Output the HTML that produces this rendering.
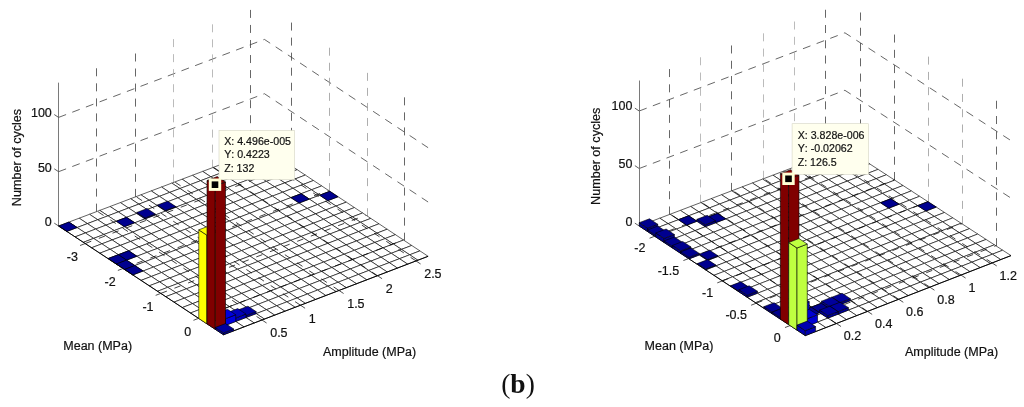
<!DOCTYPE html>
<html><head><meta charset="utf-8"><title>Figure (b)</title>
<style>html,body{margin:0;padding:0;background:#fff}svg{display:block}text{font-kerning:none}</style></head>
<body><svg width="1024" height="407" viewBox="0 0 1024 407">
<rect width="1024" height="407" fill="#fff"/>
<g fill="none" stroke="#404040" stroke-width="0.8" stroke-dasharray="8 6.6">
<polyline points="58.6,171.7 264.4,93.7 428.1,202"/>
<polyline points="58.6,117.4 264.4,39.4 428.1,147.7"/>
<line x1="96.5" y1="211.64" x2="96.5" y2="68.28" stroke-dasharray="8 7.04"/>
<line x1="135.5" y1="196.85" x2="135.5" y2="53.5" stroke-dasharray="8 7.04"/>
<line x1="173.5" y1="182.45" x2="173.5" y2="39.1" stroke-dasharray="8 7.04" stroke="#aaa"/>
<line x1="212.5" y1="167.67" x2="212.5" y2="24.32" stroke-dasharray="8 7.04" stroke="#aaa"/>
<line x1="250.5" y1="153.27" x2="250.5" y2="9.92" stroke-dasharray="8 7.04"/>
<line x1="291.5" y1="165.93" x2="291.5" y2="22.58" stroke-dasharray="8 7.04"/>
<line x1="329.5" y1="191.07" x2="329.5" y2="47.72" stroke-dasharray="8 7.04" stroke="#999"/>
<line x1="367.5" y1="216.21" x2="367.5" y2="72.86" stroke-dasharray="8 7.04" stroke="#999"/>
<line x1="404.5" y1="240.69" x2="404.5" y2="97.33" stroke-dasharray="8 7.04"/>
</g>
<line x1="58.5" y1="82.65" x2="58.5" y2="226" stroke="#7a7a7a" stroke-width="1"/>
<line x1="58.6" y1="226" x2="54.26" y2="223.14" stroke="#333" stroke-width="0.8"/>
<text x="51.8" y="225.8" text-anchor="end" font-family="Liberation Sans, Arial, sans-serif" font-size="12.5" fill="#111" stroke="#111" stroke-width="0.2">0</text>
<line x1="58.6" y1="171.7" x2="54.26" y2="168.84" stroke="#333" stroke-width="0.8"/>
<text x="51.8" y="171.5" text-anchor="end" font-family="Liberation Sans, Arial, sans-serif" font-size="12.5" fill="#111" stroke="#111" stroke-width="0.2">50</text>
<line x1="58.6" y1="117.4" x2="54.26" y2="114.54" stroke="#333" stroke-width="0.8"/>
<text x="51.8" y="117.2" text-anchor="end" font-family="Liberation Sans, Arial, sans-serif" font-size="12.5" fill="#111" stroke="#111" stroke-width="0.2">100</text>
<g stroke="#000" stroke-width="0.62" stroke-linejoin="round">
<polygon points="254.11,151.9 262.3,157.32 272.58,153.41 264.4,148" fill="#fff"/>
<polygon points="243.82,155.8 252.01,161.22 262.3,157.32 254.11,151.9" fill="#fff"/>
<polygon points="233.53,159.7 241.72,165.12 252.01,161.22 243.82,155.8" fill="#fff"/>
<polygon points="223.24,163.6 231.44,169.02 241.72,165.12 233.53,159.7" fill="#fff"/>
<polygon points="212.95,167.5 221.15,172.92 231.44,169.02 223.24,163.6" fill="#fff"/>
<polygon points="202.66,171.4 210.86,176.82 221.15,172.92 212.95,167.5" fill="#fff"/>
<polygon points="192.37,175.3 200.58,180.72 210.86,176.82 202.66,171.4" fill="#fff"/>
<polygon points="182.08,179.2 190.29,184.62 200.58,180.72 192.37,175.3" fill="#fff"/>
<polygon points="171.79,183.1 180,188.53 190.29,184.62 182.08,179.2" fill="#fff"/>
<polygon points="161.5,187 169.71,192.43 180,188.53 171.79,183.1" fill="#fff"/>
<polygon points="151.21,190.9 159.43,196.33 169.71,192.43 161.5,187" fill="#fff"/>
<polygon points="140.92,194.8 149.14,200.23 159.43,196.33 151.21,190.9" fill="#fff"/>
<polygon points="130.63,198.7 138.85,204.13 149.14,200.23 140.92,194.8" fill="#fff"/>
<polygon points="120.34,202.6 128.57,208.03 138.85,204.13 130.63,198.7" fill="#fff"/>
<polygon points="110.05,206.5 118.28,211.93 128.57,208.03 120.34,202.6" fill="#fff"/>
<polygon points="99.76,210.4 107.99,215.83 118.28,211.93 110.05,206.5" fill="#fff"/>
<polygon points="89.47,214.3 97.71,219.73 107.99,215.83 99.76,210.4" fill="#fff"/>
<polygon points="79.18,218.2 87.42,223.64 97.71,219.73 89.47,214.3" fill="#fff"/>
<polygon points="68.89,222.1 77.13,227.54 87.42,223.64 79.18,218.2" fill="#fff"/>
<polygon points="58.6,226 66.84,231.44 77.13,227.54 68.89,222.1" fill="#00008f"/>
<polygon points="262.3,157.32 270.49,162.73 280.77,158.83 272.58,153.41" fill="#fff"/>
<polygon points="252.01,161.22 260.2,166.63 270.49,162.73 262.3,157.32" fill="#fff"/>
<polygon points="241.72,165.12 249.92,170.54 260.2,166.63 252.01,161.22" fill="#fff"/>
<polygon points="231.44,169.02 239.63,174.44 249.92,170.54 241.72,165.12" fill="#fff"/>
<polygon points="221.15,172.92 229.35,178.34 239.63,174.44 231.44,169.02" fill="#fff"/>
<polygon points="210.86,176.82 219.07,182.24 229.35,178.34 221.15,172.92" fill="#fff"/>
<polygon points="200.58,180.72 208.78,186.15 219.07,182.24 210.86,176.82" fill="#fff"/>
<polygon points="190.29,184.62 198.5,190.05 208.78,186.15 200.58,180.72" fill="#fff"/>
<polygon points="180,188.53 188.21,193.95 198.5,190.05 190.29,184.62" fill="#fff"/>
<polygon points="169.71,192.43 177.93,197.85 188.21,193.95 180,188.53" fill="#fff"/>
<polygon points="159.43,196.33 167.65,201.75 177.93,197.85 169.71,192.43" fill="#fff"/>
<polygon points="149.14,200.23 157.36,205.66 167.65,201.75 159.43,196.33" fill="#fff"/>
<polygon points="138.85,204.13 147.08,209.56 157.36,205.66 149.14,200.23" fill="#fff"/>
<polygon points="128.57,208.03 136.79,213.46 147.08,209.56 138.85,204.13" fill="#fff"/>
<polygon points="118.28,211.93 126.51,217.36 136.79,213.46 128.57,208.03" fill="#fff"/>
<polygon points="107.99,215.83 116.23,221.27 126.51,217.36 118.28,211.93" fill="#fff"/>
<polygon points="97.71,219.73 105.94,225.17 116.23,221.27 107.99,215.83" fill="#fff"/>
<polygon points="87.42,223.64 95.66,229.07 105.94,225.17 97.71,219.73" fill="#fff"/>
<polygon points="77.13,227.54 85.37,232.97 95.66,229.07 87.42,223.64" fill="#fff"/>
<polygon points="66.84,231.44 75.09,236.88 85.37,232.97 77.13,227.54" fill="#fff"/>
<polygon points="270.49,162.73 278.67,168.15 288.95,164.25 280.77,158.83" fill="#fff"/>
<polygon points="260.2,166.63 268.39,172.05 278.67,168.15 270.49,162.73" fill="#fff"/>
<polygon points="249.92,170.54 258.11,175.96 268.39,172.05 260.2,166.63" fill="#fff"/>
<polygon points="239.63,174.44 247.83,179.86 258.11,175.96 249.92,170.54" fill="#fff"/>
<polygon points="229.35,178.34 237.55,183.76 247.83,179.86 239.63,174.44" fill="#fff"/>
<polygon points="219.07,182.24 227.27,187.67 237.55,183.76 229.35,178.34" fill="#fff"/>
<polygon points="208.78,186.15 216.99,191.57 227.27,187.67 219.07,182.24" fill="#fff"/>
<polygon points="198.5,190.05 206.71,195.47 216.99,191.57 208.78,186.15" fill="#fff"/>
<polygon points="188.21,193.95 196.43,199.38 206.71,195.47 198.5,190.05" fill="#fff"/>
<polygon points="177.93,197.85 186.14,203.28 196.43,199.38 188.21,193.95" fill="#fff"/>
<polygon points="167.65,201.75 175.86,207.18 186.14,203.28 177.93,197.85" fill="#fff"/>
<polygon points="147.08,209.56 155.3,214.99 165.58,211.09 157.36,205.66" fill="#fff"/>
<polygon points="126.51,217.36 134.74,222.8 145.02,218.89 136.79,213.46" fill="#fff"/>
<polygon points="116.23,221.27 124.46,226.7 134.74,222.8 126.51,217.36" fill="#00008f"/>
<polygon points="105.94,225.17 114.18,230.6 124.46,226.7 116.23,221.27" fill="#fff"/>
<polygon points="95.66,229.07 103.9,234.51 114.18,230.6 105.94,225.17" fill="#fff"/>
<polygon points="85.37,232.97 93.62,238.41 103.9,234.51 95.66,229.07" fill="#fff"/>
<polygon points="75.09,236.88 83.34,242.31 93.62,238.41 85.37,232.97" fill="#fff"/>
<polygon points="278.67,168.15 286.86,173.56 297.14,169.66 288.95,164.25" fill="#fff"/>
<polygon points="268.39,172.05 276.58,177.47 286.86,173.56 278.67,168.15" fill="#fff"/>
<polygon points="258.11,175.96 266.31,181.37 276.58,177.47 268.39,172.05" fill="#fff"/>
<polygon points="247.83,179.86 256.03,185.28 266.31,181.37 258.11,175.96" fill="#fff"/>
<polygon points="237.55,183.76 245.75,189.18 256.03,185.28 247.83,179.86" fill="#fff"/>
<polygon points="227.27,187.67 235.47,193.09 245.75,189.18 237.55,183.76" fill="#fff"/>
<polygon points="216.99,191.57 225.19,196.99 235.47,193.09 227.27,187.67" fill="#fff"/>
<polygon points="206.71,195.47 214.92,200.9 225.19,196.99 216.99,191.57" fill="#fff"/>
<polygon points="196.43,199.38 204.64,204.8 214.92,200.9 206.71,195.47" fill="#fff"/>
<polygon points="186.14,203.28 194.36,208.7 204.64,204.8 196.43,199.38" fill="#fff"/>
<polygon points="175.86,207.18 184.08,212.61 194.36,208.7 186.14,203.28" fill="#fff"/>
<polygon points="165.58,211.09 173.8,216.51 184.08,212.61 175.86,207.18" fill="#fff"/>
<polygon points="155.3,214.99 163.53,220.42 173.8,216.51 165.58,211.09" fill="#fff"/>
<polygon points="145.02,218.89 153.25,224.32 163.53,220.42 155.3,214.99" fill="#fff"/>
<polygon points="134.74,222.8 142.97,228.23 153.25,224.32 145.02,218.89" fill="#fff"/>
<polygon points="124.46,226.7 132.69,232.13 142.97,228.23 134.74,222.8" fill="#fff"/>
<polygon points="114.18,230.6 122.41,236.04 132.69,232.13 124.46,226.7" fill="#fff"/>
<polygon points="103.9,234.51 112.14,239.94 122.41,236.04 114.18,230.6" fill="#fff"/>
<polygon points="93.62,238.41 101.86,243.85 112.14,239.94 103.9,234.51" fill="#fff"/>
<polygon points="83.34,242.31 91.58,247.75 101.86,243.85 93.62,238.41" fill="#fff"/>
<polygon points="286.86,173.56 295.05,178.98 305.32,175.07 297.14,169.66" fill="#fff"/>
<polygon points="276.58,177.47 284.77,182.89 295.05,178.98 286.86,173.56" fill="#fff"/>
<polygon points="266.31,181.37 274.5,186.79 284.77,182.89 276.58,177.47" fill="#fff"/>
<polygon points="256.03,185.28 264.23,190.7 274.5,186.79 266.31,181.37" fill="#fff"/>
<polygon points="245.75,189.18 253.95,194.6 264.23,190.7 256.03,185.28" fill="#fff"/>
<polygon points="235.47,193.09 243.67,198.51 253.95,194.6 245.75,189.18" fill="#fff"/>
<polygon points="225.19,196.99 233.4,202.41 243.67,198.51 235.47,193.09" fill="#fff"/>
<polygon points="214.92,200.9 223.12,206.32 233.4,202.41 225.19,196.99" fill="#fff"/>
<polygon points="204.64,204.8 212.85,210.23 223.12,206.32 214.92,200.9" fill="#fff"/>
<polygon points="194.36,208.7 202.57,214.13 212.85,210.23 204.64,204.8" fill="#fff"/>
<polygon points="184.08,212.61 192.3,218.04 202.57,214.13 194.36,208.7" fill="#fff"/>
<polygon points="173.8,216.51 182.03,221.94 192.3,218.04 184.08,212.61" fill="#fff"/>
<polygon points="163.53,220.42 171.75,225.85 182.03,221.94 173.8,216.51" fill="#fff"/>
<polygon points="153.25,224.32 161.47,229.75 171.75,225.85 163.53,220.42" fill="#fff"/>
<polygon points="142.97,228.23 151.2,233.66 161.47,229.75 153.25,224.32" fill="#fff"/>
<polygon points="132.69,232.13 140.93,237.56 151.2,233.66 142.97,228.23" fill="#fff"/>
<polygon points="122.41,236.04 130.65,241.47 140.93,237.56 132.69,232.13" fill="#fff"/>
<polygon points="112.14,239.94 120.38,245.38 130.65,241.47 122.41,236.04" fill="#fff"/>
<polygon points="101.86,243.85 110.1,249.28 120.38,245.38 112.14,239.94" fill="#fff"/>
<polygon points="91.58,247.75 99.83,253.19 110.1,249.28 101.86,243.85" fill="#fff"/>
<polygon points="295.05,178.98 303.24,184.4 313.51,180.49 305.32,175.07" fill="#fff"/>
<polygon points="284.77,182.89 292.97,188.3 303.24,184.4 295.05,178.98" fill="#fff"/>
<polygon points="274.5,186.79 282.69,192.21 292.97,188.3 284.77,182.89" fill="#fff"/>
<polygon points="264.23,190.7 272.42,196.12 282.69,192.21 274.5,186.79" fill="#fff"/>
<polygon points="253.95,194.6 262.15,200.02 272.42,196.12 264.23,190.7" fill="#fff"/>
<polygon points="243.67,198.51 251.88,203.93 262.15,200.02 253.95,194.6" fill="#fff"/>
<polygon points="233.4,202.41 241.61,207.84 251.88,203.93 243.67,198.51" fill="#fff"/>
<polygon points="223.12,206.32 231.33,211.74 241.61,207.84 233.4,202.41" fill="#fff"/>
<polygon points="212.85,210.23 221.06,215.65 231.33,211.74 223.12,206.32" fill="#fff"/>
<polygon points="202.57,214.13 210.79,219.56 221.06,215.65 212.85,210.23" fill="#fff"/>
<polygon points="192.3,218.04 200.52,223.46 210.79,219.56 202.57,214.13" fill="#fff"/>
<polygon points="182.03,221.94 190.25,227.37 200.52,223.46 192.3,218.04" fill="#fff"/>
<polygon points="171.75,225.85 179.97,231.28 190.25,227.37 182.03,221.94" fill="#fff"/>
<polygon points="161.47,229.75 169.7,235.18 179.97,231.28 171.75,225.85" fill="#fff"/>
<polygon points="151.2,233.66 159.43,239.09 169.7,235.18 161.47,229.75" fill="#fff"/>
<polygon points="140.93,237.56 149.16,243 159.43,239.09 151.2,233.66" fill="#fff"/>
<polygon points="130.65,241.47 138.89,246.9 149.16,243 140.93,237.56" fill="#fff"/>
<polygon points="120.38,245.38 128.61,250.81 138.89,246.9 130.65,241.47" fill="#fff"/>
<polygon points="110.1,249.28 118.34,254.72 128.61,250.81 120.38,245.38" fill="#fff"/>
<polygon points="99.83,253.19 108.07,258.62 118.34,254.72 110.1,249.28" fill="#fff"/>
<polygon points="303.24,184.4 311.43,189.81 321.69,185.91 313.51,180.49" fill="#fff"/>
<polygon points="292.97,188.3 301.16,193.72 311.43,189.81 303.24,184.4" fill="#fff"/>
<polygon points="282.69,192.21 290.89,197.63 301.16,193.72 292.97,188.3" fill="#fff"/>
<polygon points="272.42,196.12 280.62,201.54 290.89,197.63 282.69,192.21" fill="#fff"/>
<polygon points="262.15,200.02 270.35,205.44 280.62,201.54 272.42,196.12" fill="#fff"/>
<polygon points="251.88,203.93 260.08,209.35 270.35,205.44 262.15,200.02" fill="#fff"/>
<polygon points="241.61,207.84 249.81,213.26 260.08,209.35 251.88,203.93" fill="#fff"/>
<polygon points="231.33,211.74 239.54,217.17 249.81,213.26 241.61,207.84" fill="#fff"/>
<polygon points="221.06,215.65 229.27,221.08 239.54,217.17 231.33,211.74" fill="#fff"/>
<polygon points="210.79,219.56 219,224.98 229.27,221.08 221.06,215.65" fill="#fff"/>
<polygon points="200.52,223.46 208.74,228.89 219,224.98 210.79,219.56" fill="#fff"/>
<polygon points="190.25,227.37 198.47,232.8 208.74,228.89 200.52,223.46" fill="#fff"/>
<polygon points="179.97,231.28 188.2,236.71 198.47,232.8 190.25,227.37" fill="#fff"/>
<polygon points="169.7,235.18 177.93,240.62 188.2,236.71 179.97,231.28" fill="#fff"/>
<polygon points="159.43,239.09 167.66,244.52 177.93,240.62 169.7,235.18" fill="#fff"/>
<polygon points="149.16,243 157.39,248.43 167.66,244.52 159.43,239.09" fill="#fff"/>
<polygon points="138.89,246.9 147.12,252.34 157.39,248.43 149.16,243" fill="#fff"/>
<polygon points="128.61,250.81 136.85,256.25 147.12,252.34 138.89,246.9" fill="#fff"/>
<polygon points="118.34,254.72 126.58,260.15 136.85,256.25 128.61,250.81" fill="#00008f"/>
<polygon points="108.07,258.62 116.31,264.06 126.58,260.15 118.34,254.72" fill="#00008f"/>
<polygon points="311.43,189.81 319.61,195.23 329.88,191.32 321.69,185.91" fill="#fff"/>
<polygon points="301.16,193.72 309.35,199.14 319.61,195.23 311.43,189.81" fill="#fff"/>
<polygon points="290.89,197.63 299.08,203.05 309.35,199.14 301.16,193.72" fill="#00008f"/>
<polygon points="280.62,201.54 288.82,206.96 299.08,203.05 290.89,197.63" fill="#fff"/>
<polygon points="270.35,205.44 278.55,210.87 288.82,206.96 280.62,201.54" fill="#fff"/>
<polygon points="260.08,209.35 268.28,214.77 278.55,210.87 270.35,205.44" fill="#fff"/>
<polygon points="249.81,213.26 258.02,218.68 268.28,214.77 260.08,209.35" fill="#fff"/>
<polygon points="239.54,217.17 247.75,222.59 258.02,218.68 249.81,213.26" fill="#fff"/>
<polygon points="229.27,221.08 237.49,226.5 247.75,222.59 239.54,217.17" fill="#fff"/>
<polygon points="219,224.98 227.22,230.41 237.49,226.5 229.27,221.08" fill="#fff"/>
<polygon points="208.74,228.89 216.95,234.32 227.22,230.41 219,224.98" fill="#fff"/>
<polygon points="198.47,232.8 206.69,238.23 216.95,234.32 208.74,228.89" fill="#fff"/>
<polygon points="188.2,236.71 196.42,242.14 206.69,238.23 198.47,232.8" fill="#fff"/>
<polygon points="177.93,240.62 186.16,246.05 196.42,242.14 188.2,236.71" fill="#fff"/>
<polygon points="167.66,244.52 175.89,249.95 186.16,246.05 177.93,240.62" fill="#fff"/>
<polygon points="157.39,248.43 165.62,253.86 175.89,249.95 167.66,244.52" fill="#fff"/>
<polygon points="147.12,252.34 155.36,257.77 165.62,253.86 157.39,248.43" fill="#fff"/>
<polygon points="136.85,256.25 145.09,261.68 155.36,257.77 147.12,252.34" fill="#fff"/>
<polygon points="126.58,260.15 134.83,265.59 145.09,261.68 136.85,256.25" fill="#fff"/>
<polygon points="116.31,264.06 124.56,269.5 134.83,265.59 126.58,260.15" fill="#00008f"/>
<polygon points="319.61,195.23 327.8,200.65 338.06,196.74 329.88,191.32" fill="#00008f"/>
<polygon points="309.35,199.14 317.54,204.56 327.8,200.65 319.61,195.23" fill="#fff"/>
<polygon points="299.08,203.05 307.28,208.47 317.54,204.56 309.35,199.14" fill="#fff"/>
<polygon points="288.82,206.96 297.01,212.38 307.28,208.47 299.08,203.05" fill="#fff"/>
<polygon points="278.55,210.87 286.75,216.29 297.01,212.38 288.82,206.96" fill="#fff"/>
<polygon points="268.28,214.77 276.49,220.2 286.75,216.29 278.55,210.87" fill="#fff"/>
<polygon points="258.02,218.68 266.22,224.11 276.49,220.2 268.28,214.77" fill="#fff"/>
<polygon points="247.75,222.59 255.96,228.02 266.22,224.11 258.02,218.68" fill="#fff"/>
<polygon points="237.49,226.5 245.7,231.93 255.96,228.02 247.75,222.59" fill="#fff"/>
<polygon points="227.22,230.41 235.44,235.84 245.7,231.93 237.49,226.5" fill="#fff"/>
<polygon points="216.95,234.32 225.17,239.75 235.44,235.84 227.22,230.41" fill="#fff"/>
<polygon points="206.69,238.23 214.91,243.66 225.17,239.75 216.95,234.32" fill="#fff"/>
<polygon points="196.42,242.14 204.65,247.57 214.91,243.66 206.69,238.23" fill="#fff"/>
<polygon points="186.16,246.05 194.38,251.48 204.65,247.57 196.42,242.14" fill="#fff"/>
<polygon points="175.89,249.95 184.12,255.39 194.38,251.48 186.16,246.05" fill="#fff"/>
<polygon points="165.62,253.86 173.86,259.3 184.12,255.39 175.89,249.95" fill="#fff"/>
<polygon points="155.36,257.77 163.59,263.21 173.86,259.3 165.62,253.86" fill="#fff"/>
<polygon points="145.09,261.68 153.33,267.12 163.59,263.21 155.36,257.77" fill="#fff"/>
<polygon points="134.83,265.59 143.07,271.03 153.33,267.12 145.09,261.68" fill="#fff"/>
<polygon points="124.56,269.5 132.81,274.94 143.07,271.03 134.83,265.59" fill="#00008f"/>
<polygon points="327.8,200.65 335.99,206.06 346.25,202.15 338.06,196.74" fill="#fff"/>
<polygon points="317.54,204.56 325.73,209.97 335.99,206.06 327.8,200.65" fill="#fff"/>
<polygon points="307.28,208.47 315.47,213.88 325.73,209.97 317.54,204.56" fill="#fff"/>
<polygon points="297.01,212.38 305.21,217.8 315.47,213.88 307.28,208.47" fill="#fff"/>
<polygon points="286.75,216.29 294.95,221.71 305.21,217.8 297.01,212.38" fill="#fff"/>
<polygon points="276.49,220.2 284.69,225.62 294.95,221.71 286.75,216.29" fill="#fff"/>
<polygon points="266.22,224.11 274.43,229.53 284.69,225.62 276.49,220.2" fill="#fff"/>
<polygon points="255.96,228.02 264.17,233.44 274.43,229.53 266.22,224.11" fill="#fff"/>
<polygon points="245.7,231.93 253.91,237.35 264.17,233.44 255.96,228.02" fill="#fff"/>
<polygon points="235.44,235.84 243.65,241.26 253.91,237.35 245.7,231.93" fill="#fff"/>
<polygon points="225.17,239.75 233.39,245.17 243.65,241.26 235.44,235.84" fill="#fff"/>
<polygon points="214.91,243.66 223.13,249.09 233.39,245.17 225.17,239.75" fill="#fff"/>
<polygon points="204.65,247.57 212.87,253 223.13,249.09 214.91,243.66" fill="#fff"/>
<polygon points="194.38,251.48 202.61,256.91 212.87,253 204.65,247.57" fill="#fff"/>
<polygon points="184.12,255.39 192.35,260.82 202.61,256.91 194.38,251.48" fill="#fff"/>
<polygon points="173.86,259.3 182.09,264.73 192.35,260.82 184.12,255.39" fill="#fff"/>
<polygon points="163.59,263.21 171.83,268.64 182.09,264.73 173.86,259.3" fill="#fff"/>
<polygon points="153.33,267.12 161.57,272.55 171.83,268.64 163.59,263.21" fill="#fff"/>
<polygon points="143.07,271.03 151.31,276.46 161.57,272.55 153.33,267.12" fill="#fff"/>
<polygon points="132.81,274.94 141.05,280.38 151.31,276.46 143.07,271.03" fill="#fff"/>
<polygon points="335.99,206.06 344.18,211.48 354.44,207.57 346.25,202.15" fill="#fff"/>
<polygon points="325.73,209.97 333.92,215.39 344.18,211.48 335.99,206.06" fill="#fff"/>
<polygon points="315.47,213.88 323.66,219.3 333.92,215.39 325.73,209.97" fill="#fff"/>
<polygon points="305.21,217.8 313.41,223.21 323.66,219.3 315.47,213.88" fill="#fff"/>
<polygon points="294.95,221.71 303.15,227.13 313.41,223.21 305.21,217.8" fill="#fff"/>
<polygon points="284.69,225.62 292.89,231.04 303.15,227.13 294.95,221.71" fill="#fff"/>
<polygon points="274.43,229.53 282.64,234.95 292.89,231.04 284.69,225.62" fill="#fff"/>
<polygon points="264.17,233.44 272.38,238.86 282.64,234.95 274.43,229.53" fill="#fff"/>
<polygon points="253.91,237.35 262.12,242.78 272.38,238.86 264.17,233.44" fill="#fff"/>
<polygon points="243.65,241.26 251.87,246.69 262.12,242.78 253.91,237.35" fill="#fff"/>
<polygon points="233.39,245.17 241.61,250.6 251.87,246.69 243.65,241.26" fill="#fff"/>
<polygon points="223.13,249.09 231.35,254.51 241.61,250.6 233.39,245.17" fill="#fff"/>
<polygon points="212.87,253 221.09,258.43 231.35,254.51 223.13,249.09" fill="#fff"/>
<polygon points="202.61,256.91 210.84,262.34 221.09,258.43 212.87,253" fill="#fff"/>
<polygon points="192.35,260.82 200.58,266.25 210.84,262.34 202.61,256.91" fill="#fff"/>
<polygon points="182.09,264.73 190.32,270.16 200.58,266.25 192.35,260.82" fill="#fff"/>
<polygon points="171.83,268.64 180.07,274.08 190.32,270.16 182.09,264.73" fill="#fff"/>
<polygon points="161.57,272.55 169.81,277.99 180.07,274.08 171.83,268.64" fill="#fff"/>
<polygon points="151.31,276.46 159.55,281.9 169.81,277.99 161.57,272.55" fill="#fff"/>
<polygon points="141.05,280.38 149.3,285.81 159.55,281.9 151.31,276.46" fill="#fff"/>
<polygon points="344.18,211.48 352.37,216.89 362.62,212.98 354.44,207.57" fill="#fff"/>
<polygon points="333.92,215.39 342.11,220.81 352.37,216.89 344.18,211.48" fill="#fff"/>
<polygon points="323.66,219.3 331.86,224.72 342.11,220.81 333.92,215.39" fill="#fff"/>
<polygon points="313.41,223.21 321.6,228.63 331.86,224.72 323.66,219.3" fill="#fff"/>
<polygon points="303.15,227.13 311.35,232.55 321.6,228.63 313.41,223.21" fill="#fff"/>
<polygon points="292.89,231.04 301.1,236.46 311.35,232.55 303.15,227.13" fill="#fff"/>
<polygon points="282.64,234.95 290.84,240.37 301.1,236.46 292.89,231.04" fill="#fff"/>
<polygon points="272.38,238.86 280.59,244.29 290.84,240.37 282.64,234.95" fill="#fff"/>
<polygon points="262.12,242.78 270.33,248.2 280.59,244.29 272.38,238.86" fill="#fff"/>
<polygon points="251.87,246.69 260.08,252.11 270.33,248.2 262.12,242.78" fill="#fff"/>
<polygon points="241.61,250.6 249.83,256.03 260.08,252.11 251.87,246.69" fill="#fff"/>
<polygon points="231.35,254.51 239.57,259.94 249.83,256.03 241.61,250.6" fill="#fff"/>
<polygon points="221.09,258.43 229.32,263.86 239.57,259.94 231.35,254.51" fill="#fff"/>
<polygon points="210.84,262.34 219.06,267.77 229.32,263.86 221.09,258.43" fill="#fff"/>
<polygon points="200.58,266.25 208.81,271.68 219.06,267.77 210.84,262.34" fill="#fff"/>
<polygon points="190.32,270.16 198.56,275.6 208.81,271.68 200.58,266.25" fill="#fff"/>
<polygon points="180.07,274.08 188.3,279.51 198.56,275.6 190.32,270.16" fill="#fff"/>
<polygon points="169.81,277.99 178.05,283.42 188.3,279.51 180.07,274.08" fill="#fff"/>
<polygon points="159.55,281.9 167.79,287.34 178.05,283.42 169.81,277.99" fill="#fff"/>
<polygon points="149.3,285.81 157.54,291.25 167.79,287.34 159.55,281.9" fill="#fff"/>
<polygon points="352.37,216.89 360.55,222.31 370.81,218.4 362.62,212.98" fill="#fff"/>
<polygon points="342.11,220.81 350.3,226.22 360.55,222.31 352.37,216.89" fill="#fff"/>
<polygon points="331.86,224.72 340.05,230.14 350.3,226.22 342.11,220.81" fill="#fff"/>
<polygon points="321.6,228.63 329.8,234.05 340.05,230.14 331.86,224.72" fill="#fff"/>
<polygon points="311.35,232.55 319.55,237.97 329.8,234.05 321.6,228.63" fill="#fff"/>
<polygon points="301.1,236.46 309.3,241.88 319.55,237.97 311.35,232.55" fill="#fff"/>
<polygon points="290.84,240.37 299.05,245.8 309.3,241.88 301.1,236.46" fill="#fff"/>
<polygon points="280.59,244.29 288.8,249.71 299.05,245.8 290.84,240.37" fill="#fff"/>
<polygon points="270.33,248.2 278.55,253.63 288.8,249.71 280.59,244.29" fill="#fff"/>
<polygon points="260.08,252.11 268.3,257.54 278.55,253.63 270.33,248.2" fill="#fff"/>
<polygon points="249.83,256.03 258.04,261.46 268.3,257.54 260.08,252.11" fill="#fff"/>
<polygon points="239.57,259.94 247.79,265.37 258.04,261.46 249.83,256.03" fill="#fff"/>
<polygon points="229.32,263.86 237.54,269.29 247.79,265.37 239.57,259.94" fill="#fff"/>
<polygon points="219.06,267.77 227.29,273.2 237.54,269.29 229.32,263.86" fill="#fff"/>
<polygon points="208.81,271.68 217.04,277.11 227.29,273.2 219.06,267.77" fill="#fff"/>
<polygon points="198.56,275.6 206.79,281.03 217.04,277.11 208.81,271.68" fill="#fff"/>
<polygon points="188.3,279.51 196.54,284.94 206.79,281.03 198.56,275.6" fill="#fff"/>
<polygon points="178.05,283.42 186.29,288.86 196.54,284.94 188.3,279.51" fill="#fff"/>
<polygon points="167.79,287.34 176.04,292.77 186.29,288.86 178.05,283.42" fill="#fff"/>
<polygon points="157.54,291.25 165.78,296.69 176.04,292.77 167.79,287.34" fill="#fff"/>
<polygon points="360.55,222.31 368.74,227.73 378.99,223.81 370.81,218.4" fill="#fff"/>
<polygon points="350.3,226.22 358.49,231.64 368.74,227.73 360.55,222.31" fill="#fff"/>
<polygon points="340.05,230.14 348.25,235.56 358.49,231.64 350.3,226.22" fill="#fff"/>
<polygon points="329.8,234.05 338,239.47 348.25,235.56 340.05,230.14" fill="#fff"/>
<polygon points="319.55,237.97 327.75,243.39 338,239.47 329.8,234.05" fill="#fff"/>
<polygon points="309.3,241.88 317.5,247.3 327.75,243.39 319.55,237.97" fill="#fff"/>
<polygon points="299.05,245.8 307.25,251.22 317.5,247.3 309.3,241.88" fill="#fff"/>
<polygon points="288.8,249.71 297.01,255.14 307.25,251.22 299.05,245.8" fill="#fff"/>
<polygon points="278.55,253.63 286.76,259.05 297.01,255.14 288.8,249.71" fill="#fff"/>
<polygon points="268.3,257.54 276.51,262.97 286.76,259.05 278.55,253.63" fill="#fff"/>
<polygon points="258.04,261.46 266.26,266.88 276.51,262.97 268.3,257.54" fill="#fff"/>
<polygon points="247.79,265.37 256.01,270.8 266.26,266.88 258.04,261.46" fill="#fff"/>
<polygon points="237.54,269.29 245.77,274.71 256.01,270.8 247.79,265.37" fill="#fff"/>
<polygon points="227.29,273.2 235.52,278.63 245.77,274.71 237.54,269.29" fill="#fff"/>
<polygon points="217.04,277.11 225.27,282.55 235.52,278.63 227.29,273.2" fill="#fff"/>
<polygon points="206.79,281.03 215.02,286.46 225.27,282.55 217.04,277.11" fill="#fff"/>
<polygon points="196.54,284.94 204.77,290.38 215.02,286.46 206.79,281.03" fill="#fff"/>
<polygon points="186.29,288.86 194.53,294.29 204.77,290.38 196.54,284.94" fill="#fff"/>
<polygon points="176.04,292.77 184.28,298.21 194.53,294.29 186.29,288.86" fill="#fff"/>
<polygon points="165.78,296.69 174.03,302.12 184.28,298.21 176.04,292.77" fill="#fff"/>
<polygon points="368.74,227.73 376.93,233.14 387.18,229.23 378.99,223.81" fill="#fff"/>
<polygon points="358.49,231.64 366.69,237.06 376.93,233.14 368.74,227.73" fill="#fff"/>
<polygon points="348.25,235.56 356.44,240.98 366.69,237.06 358.49,231.64" fill="#fff"/>
<polygon points="338,239.47 346.2,244.89 356.44,240.98 348.25,235.56" fill="#fff"/>
<polygon points="327.75,243.39 335.95,248.81 346.2,244.89 338,239.47" fill="#fff"/>
<polygon points="317.5,247.3 325.7,252.73 335.95,248.81 327.75,243.39" fill="#fff"/>
<polygon points="307.25,251.22 315.46,256.64 325.7,252.73 317.5,247.3" fill="#fff"/>
<polygon points="297.01,255.14 305.22,260.56 315.46,256.64 307.25,251.22" fill="#fff"/>
<polygon points="286.76,259.05 294.97,264.48 305.22,260.56 297.01,255.14" fill="#fff"/>
<polygon points="276.51,262.97 284.73,268.39 294.97,264.48 286.76,259.05" fill="#fff"/>
<polygon points="266.26,266.88 274.48,272.31 284.73,268.39 276.51,262.97" fill="#fff"/>
<polygon points="256.01,270.8 264.24,276.23 274.48,272.31 266.26,266.88" fill="#fff"/>
<polygon points="245.77,274.71 253.99,280.14 264.24,276.23 256.01,270.8" fill="#fff"/>
<polygon points="235.52,278.63 243.74,284.06 253.99,280.14 245.77,274.71" fill="#fff"/>
<polygon points="225.27,282.55 233.5,287.98 243.74,284.06 235.52,278.63" fill="#fff"/>
<polygon points="215.02,286.46 223.26,291.89 233.5,287.98 225.27,282.55" fill="#fff"/>
<polygon points="204.77,290.38 213.01,295.81 223.26,291.89 215.02,286.46" fill="#fff"/>
<polygon points="194.53,294.29 202.77,299.73 213.01,295.81 204.77,290.38" fill="#fff"/>
<polygon points="184.28,298.21 192.52,303.65 202.77,299.73 194.53,294.29" fill="#fff"/>
<polygon points="174.03,302.12 182.28,307.56 192.52,303.65 184.28,298.21" fill="#fff"/>
<polygon points="376.93,233.14 385.12,238.56 395.36,234.64 387.18,229.23" fill="#fff"/>
<polygon points="366.69,237.06 374.88,242.48 385.12,238.56 376.93,233.14" fill="#fff"/>
<polygon points="356.44,240.98 364.63,246.39 374.88,242.48 366.69,237.06" fill="#fff"/>
<polygon points="346.2,244.89 354.39,250.31 364.63,246.39 356.44,240.98" fill="#fff"/>
<polygon points="335.95,248.81 344.15,254.23 354.39,250.31 346.2,244.89" fill="#fff"/>
<polygon points="325.7,252.73 333.91,258.15 344.15,254.23 335.95,248.81" fill="#fff"/>
<polygon points="315.46,256.64 323.67,262.07 333.91,258.15 325.7,252.73" fill="#fff"/>
<polygon points="305.22,260.56 313.42,265.98 323.67,262.07 315.46,256.64" fill="#fff"/>
<polygon points="294.97,264.48 303.18,269.9 313.42,265.98 305.22,260.56" fill="#fff"/>
<polygon points="284.73,268.39 292.94,273.82 303.18,269.9 294.97,264.48" fill="#fff"/>
<polygon points="274.48,272.31 282.7,277.74 292.94,273.82 284.73,268.39" fill="#fff"/>
<polygon points="264.24,276.23 272.46,281.66 282.7,277.74 274.48,272.31" fill="#fff"/>
<polygon points="253.99,280.14 262.21,285.57 272.46,281.66 264.24,276.23" fill="#fff"/>
<polygon points="243.74,284.06 251.97,289.49 262.21,285.57 253.99,280.14" fill="#fff"/>
<polygon points="233.5,287.98 241.73,293.41 251.97,289.49 243.74,284.06" fill="#fff"/>
<polygon points="223.26,291.89 231.49,297.33 241.73,293.41 233.5,287.98" fill="#fff"/>
<polygon points="213.01,295.81 221.25,301.25 231.49,297.33 223.26,291.89" fill="#fff"/>
<polygon points="202.77,299.73 211,305.16 221.25,301.25 213.01,295.81" fill="#fff"/>
<polygon points="192.52,303.65 200.76,309.08 211,305.16 202.77,299.73" fill="#fff"/>
<polygon points="182.28,307.56 190.52,313 200.76,309.08 192.52,303.65" fill="#fff"/>
<polygon points="385.12,238.56 393.31,243.97 403.55,240.06 395.36,234.64" fill="#fff"/>
<polygon points="374.88,242.48 383.07,247.89 393.31,243.97 385.12,238.56" fill="#fff"/>
<polygon points="364.63,246.39 372.83,251.81 383.07,247.89 374.88,242.48" fill="#fff"/>
<polygon points="354.39,250.31 362.59,255.73 372.83,251.81 364.63,246.39" fill="#fff"/>
<polygon points="344.15,254.23 352.35,259.65 362.59,255.73 354.39,250.31" fill="#fff"/>
<polygon points="333.91,258.15 342.11,263.57 352.35,259.65 344.15,254.23" fill="#fff"/>
<polygon points="323.67,262.07 331.87,267.49 342.11,263.57 333.91,258.15" fill="#fff"/>
<polygon points="313.42,265.98 321.63,271.41 331.87,267.49 323.67,262.07" fill="#fff"/>
<polygon points="303.18,269.9 311.39,275.33 321.63,271.41 313.42,265.98" fill="#fff"/>
<polygon points="292.94,273.82 301.15,279.25 311.39,275.33 303.18,269.9" fill="#fff"/>
<polygon points="282.7,277.74 290.92,283.17 301.15,279.25 292.94,273.82" fill="#fff"/>
<polygon points="272.46,281.66 280.68,287.08 290.92,283.17 282.7,277.74" fill="#fff"/>
<polygon points="262.21,285.57 270.44,291 280.68,287.08 272.46,281.66" fill="#fff"/>
<polygon points="251.97,289.49 260.2,294.92 270.44,291 262.21,285.57" fill="#fff"/>
<polygon points="241.73,293.41 249.96,298.84 260.2,294.92 251.97,289.49" fill="#fff"/>
<polygon points="231.49,297.33 239.72,302.76 249.96,298.84 241.73,293.41" fill="#fff"/>
<polygon points="221.25,301.25 229.48,306.68 239.72,302.76 231.49,297.33" fill="#fff"/>
<polygon points="211,305.16 219.24,310.6 229.48,306.68 221.25,301.25" fill="#fff"/>
<polygon points="200.76,309.08 209,314.52 219.24,310.6 211,305.16" fill="#fff"/>
<polygon points="190.52,313 198.76,318.44 209,314.52 200.76,309.08" fill="#fff"/>
<polygon points="393.31,243.97 401.49,249.39 411.73,245.47 403.55,240.06" fill="#fff"/>
<polygon points="383.07,247.89 391.26,253.31 401.49,249.39 393.31,243.97" fill="#fff"/>
<polygon points="372.83,251.81 381.02,257.23 391.26,253.31 383.07,247.89" fill="#fff"/>
<polygon points="362.59,255.73 370.79,261.15 381.02,257.23 372.83,251.81" fill="#fff"/>
<polygon points="352.35,259.65 360.55,265.07 370.79,261.15 362.59,255.73" fill="#fff"/>
<polygon points="342.11,263.57 350.31,268.99 360.55,265.07 352.35,259.65" fill="#fff"/>
<polygon points="331.87,267.49 340.08,272.91 350.31,268.99 342.11,263.57" fill="#fff"/>
<polygon points="321.63,271.41 329.84,276.83 340.08,272.91 331.87,267.49" fill="#fff"/>
<polygon points="311.39,275.33 319.61,280.75 329.84,276.83 321.63,271.41" fill="#fff"/>
<polygon points="301.15,279.25 309.37,284.67 319.61,280.75 311.39,275.33" fill="#fff"/>
<polygon points="290.92,283.17 299.13,288.59 309.37,284.67 301.15,279.25" fill="#fff"/>
<polygon points="280.68,287.08 288.9,292.51 299.13,288.59 290.92,283.17" fill="#fff"/>
<polygon points="270.44,291 278.66,296.43 288.9,292.51 280.68,287.08" fill="#fff"/>
<polygon points="260.2,294.92 268.43,300.35 278.66,296.43 270.44,291" fill="#fff"/>
<polygon points="249.96,298.84 258.19,304.27 268.43,300.35 260.2,294.92" fill="#fff"/>
<polygon points="239.72,302.76 247.95,308.19 258.19,304.27 249.96,298.84" fill="#fff"/>
<polygon points="229.48,306.68 237.72,312.11 247.95,308.19 239.72,302.76" fill="#fff"/>
<polygon points="219.24,310.6 227.48,316.03 237.72,312.11 229.48,306.68" fill="#fff"/>
<polygon points="209,314.52 217.25,319.95 227.48,316.03 219.24,310.6" fill="#fff"/>
<polygon points="401.49,249.39 409.68,254.81 419.92,250.88 411.73,245.47" fill="#fff"/>
<polygon points="391.26,253.31 399.45,258.73 409.68,254.81 401.49,249.39" fill="#fff"/>
<polygon points="381.02,257.23 389.22,262.65 399.45,258.73 391.26,253.31" fill="#fff"/>
<polygon points="370.79,261.15 378.98,266.57 389.22,262.65 381.02,257.23" fill="#fff"/>
<polygon points="360.55,265.07 368.75,270.49 378.98,266.57 370.79,261.15" fill="#fff"/>
<polygon points="350.31,268.99 358.52,274.41 368.75,270.49 360.55,265.07" fill="#fff"/>
<polygon points="340.08,272.91 348.28,278.33 358.52,274.41 350.31,268.99" fill="#fff"/>
<polygon points="329.84,276.83 338.05,282.26 348.28,278.33 340.08,272.91" fill="#fff"/>
<polygon points="319.61,280.75 327.82,286.18 338.05,282.26 329.84,276.83" fill="#fff"/>
<polygon points="309.37,284.67 317.59,290.1 327.82,286.18 319.61,280.75" fill="#fff"/>
<polygon points="299.13,288.59 307.35,294.02 317.59,290.1 309.37,284.67" fill="#fff"/>
<polygon points="288.9,292.51 297.12,297.94 307.35,294.02 299.13,288.59" fill="#fff"/>
<polygon points="278.66,296.43 286.89,301.86 297.12,297.94 288.9,292.51" fill="#fff"/>
<polygon points="268.43,300.35 276.65,305.78 286.89,301.86 278.66,296.43" fill="#fff"/>
<polygon points="258.19,304.27 266.42,309.71 276.65,305.78 268.43,300.35" fill="#fff"/>
<polygon points="247.95,308.19 256.19,313.63 266.42,309.71 258.19,304.27" fill="#fff"/>
<polygon points="409.68,254.81 417.87,260.22 428.1,256.3 419.92,250.88" fill="#fff"/>
<polygon points="399.45,258.73 407.64,264.14 417.87,260.22 409.68,254.81" fill="#fff"/>
<polygon points="389.22,262.65 397.41,268.07 407.64,264.14 399.45,258.73" fill="#fff"/>
<polygon points="378.98,266.57 387.18,271.99 397.41,268.07 389.22,262.65" fill="#fff"/>
<polygon points="368.75,270.49 376.95,275.91 387.18,271.99 378.98,266.57" fill="#fff"/>
<polygon points="358.52,274.41 366.72,279.84 376.95,275.91 368.75,270.49" fill="#fff"/>
<polygon points="348.28,278.33 356.49,283.76 366.72,279.84 358.52,274.41" fill="#fff"/>
<polygon points="338.05,282.26 346.26,287.68 356.49,283.76 348.28,278.33" fill="#fff"/>
<polygon points="327.82,286.18 336.03,291.6 346.26,287.68 338.05,282.26" fill="#fff"/>
<polygon points="317.59,290.1 325.8,295.52 336.03,291.6 327.82,286.18" fill="#fff"/>
<polygon points="307.35,294.02 315.57,299.45 325.8,295.52 317.59,290.1" fill="#fff"/>
<polygon points="297.12,297.94 305.34,303.37 315.57,299.45 307.35,294.02" fill="#fff"/>
<polygon points="286.89,301.86 295.11,307.29 305.34,303.37 297.12,297.94" fill="#fff"/>
<polygon points="276.65,305.78 284.88,311.21 295.11,307.29 286.89,301.86" fill="#fff"/>
<polygon points="266.42,309.71 274.65,315.14 284.88,311.21 276.65,305.78" fill="#fff"/>
<polygon points="256.19,313.63 264.42,319.06 274.65,315.14 266.42,309.71" fill="#fff"/>
<polygon points="245.95,317.55 254.19,322.98 264.42,319.06 256.19,313.63" fill="#fff"/>
<polygon points="235.72,321.47 243.96,326.91 254.19,322.98 245.95,317.55" fill="#fff"/>
<polygon points="225.49,325.39 233.73,330.83 243.96,326.91 235.72,321.47" fill="#fff"/>
</g>
<g fill="none" stroke="#000" stroke-width="0.75" stroke-dasharray="6.5 8.1">
<line x1="262" y1="319.99" x2="97.33" y2="211.32"/>
<line x1="300.5" y1="305.23" x2="136.05" y2="196.65"/>
<line x1="339" y1="290.46" x2="174.78" y2="181.97"/>
<line x1="377.5" y1="275.7" x2="213.5" y2="167.29"/>
<line x1="416" y1="260.94" x2="252.23" y2="152.61"/>
<line x1="85.2" y1="243.54" x2="290.81" y2="165.47"/>
<line x1="123" y1="268.47" x2="328.33" y2="190.3"/>
<line x1="160.8" y1="293.4" x2="365.86" y2="215.12"/>
<line x1="198.6" y1="318.33" x2="403.38" y2="239.95"/>
</g>
<g stroke="#000" stroke-width="0.62" stroke-linejoin="round">
<polygon points="58.6,226 66.84,231.44 77.13,227.54 68.89,222.1" fill="#00008f"/>
<polygon points="116.23,221.27 124.46,226.7 134.74,222.8 126.51,217.36" fill="#00008f"/>
<polygon points="118.34,254.72 126.58,260.15 136.85,256.25 128.61,250.81" fill="#00008f"/>
<polygon points="108.07,258.62 116.31,264.06 126.58,260.15 118.34,254.72" fill="#00008f"/>
<polygon points="290.89,197.63 299.08,203.05 309.35,199.14 301.16,193.72" fill="#00008f"/>
<polygon points="116.31,264.06 124.56,269.5 134.83,265.59 126.58,260.15" fill="#00008f"/>
<polygon points="319.61,195.23 327.8,200.65 338.06,196.74 329.88,191.32" fill="#00008f"/>
<polygon points="124.56,269.5 132.81,274.94 143.07,271.03 134.83,265.59" fill="#00008f"/>
</g>
<polyline points="58.6,226 223.5,334.75 428.1,256.3" fill="none" stroke="#000" stroke-width="0.95"/>
<g stroke="#000" stroke-width="0.6" stroke-linejoin="round">
<polygon points="157.36,205.66 165.58,211.09 165.58,210.49 157.36,205.06" fill="#00008f"/>
<polygon points="165.58,211.09 175.86,207.18 175.86,206.58 165.58,210.49" fill="#00008f"/>
<polygon points="157.36,205.06 165.58,210.49 175.86,206.58 167.65,201.15" fill="#00008f"/>
<polygon points="136.79,213.46 145.02,218.89 145.02,217.89 136.79,212.46" fill="#00008f"/>
<polygon points="145.02,218.89 155.3,214.99 155.3,213.99 145.02,217.89" fill="#00008f"/>
<polygon points="136.79,212.46 145.02,217.89 155.3,213.99 147.08,208.56" fill="#00008f"/>
<polygon points="198.76,318.44 207.01,323.88 207.01,235.28 198.76,229.84" fill="#ffff00"/>
<polygon points="207.01,323.88 217.25,319.95 217.25,231.35 207.01,235.28" fill="#ffff00"/>
<polygon points="198.76,229.84 207.01,235.28 217.25,231.35 209,225.92" fill="#ffff00"/>
<polygon points="237.72,312.11 245.95,317.55 245.95,315.55 237.72,310.11" fill="#0000a4"/>
<polygon points="245.95,317.55 256.19,313.63 256.19,311.63 245.95,315.55" fill="#0000a4"/>
<polygon points="237.72,310.11 245.95,315.55 256.19,311.63 247.95,306.19" fill="#0000a4"/>
<polygon points="227.48,316.03 235.72,321.47 235.72,317.97 227.48,312.53" fill="#0000bb"/>
<polygon points="235.72,321.47 245.95,317.55 245.95,314.05 235.72,317.97" fill="#0000bb"/>
<polygon points="227.48,312.53 235.72,317.97 245.95,314.05 237.72,308.61" fill="#0000bb"/>
<polygon points="217.25,319.95 225.49,325.39 225.49,318.69 217.25,313.25" fill="#0000df"/>
<polygon points="225.49,325.39 235.72,321.47 235.72,314.77 225.49,318.69" fill="#0000df"/>
<polygon points="217.25,313.25 225.49,318.69 235.72,314.77 227.48,309.33" fill="#0000df"/>
<polygon points="207.01,323.88 215.25,329.31 215.25,185.91 207.01,180.47" fill="#800000"/>
<polygon points="215.25,329.31 225.49,325.39 225.49,181.99 215.25,185.91" fill="#800000"/>
<polygon points="207.01,180.47 215.25,185.91 225.49,181.99 217.25,176.55" fill="#800000"/>
<polygon points="215.25,329.31 223.5,334.75 223.5,332.95 215.25,327.51" fill="#0000a0"/>
<polygon points="223.5,334.75 233.73,330.83 233.73,329.03 223.5,332.95" fill="#0000a0"/>
<polygon points="215.25,327.51 223.5,332.95 233.73,329.03 225.49,323.59" fill="#0000a0"/>
</g>
<line x1="262" y1="319.99" x2="266.59" y2="323.02" stroke="#222" stroke-width="0.8"/>
<text x="270.2" y="337.29" font-family="Liberation Sans, Arial, sans-serif" font-size="12.5" fill="#111" stroke="#111" stroke-width="0.2">0.5</text>
<line x1="300.5" y1="305.23" x2="305.09" y2="308.25" stroke="#222" stroke-width="0.8"/>
<text x="308.7" y="322.53" font-family="Liberation Sans, Arial, sans-serif" font-size="12.5" fill="#111" stroke="#111" stroke-width="0.2">1</text>
<line x1="339" y1="290.46" x2="343.59" y2="293.49" stroke="#222" stroke-width="0.8"/>
<text x="347.2" y="307.76" font-family="Liberation Sans, Arial, sans-serif" font-size="12.5" fill="#111" stroke="#111" stroke-width="0.2">1.5</text>
<line x1="377.5" y1="275.7" x2="382.09" y2="278.73" stroke="#222" stroke-width="0.8"/>
<text x="385.7" y="293" font-family="Liberation Sans, Arial, sans-serif" font-size="12.5" fill="#111" stroke="#111" stroke-width="0.2">2</text>
<line x1="416" y1="260.94" x2="420.59" y2="263.97" stroke="#222" stroke-width="0.8"/>
<text x="424.2" y="278.24" font-family="Liberation Sans, Arial, sans-serif" font-size="12.5" fill="#111" stroke="#111" stroke-width="0.2">2.5</text>
<line x1="85.2" y1="243.54" x2="80.06" y2="245.51" stroke="#222" stroke-width="0.8"/>
<text x="77.9" y="261.14" text-anchor="end" font-family="Liberation Sans, Arial, sans-serif" font-size="12.5" fill="#111" stroke="#111" stroke-width="0.2">-3</text>
<line x1="123" y1="268.47" x2="117.86" y2="270.44" stroke="#222" stroke-width="0.8"/>
<text x="115.7" y="286.07" text-anchor="end" font-family="Liberation Sans, Arial, sans-serif" font-size="12.5" fill="#111" stroke="#111" stroke-width="0.2">-2</text>
<line x1="160.8" y1="293.4" x2="155.66" y2="295.37" stroke="#222" stroke-width="0.8"/>
<text x="153.5" y="311" text-anchor="end" font-family="Liberation Sans, Arial, sans-serif" font-size="12.5" fill="#111" stroke="#111" stroke-width="0.2">-1</text>
<line x1="198.6" y1="318.33" x2="193.46" y2="320.3" stroke="#222" stroke-width="0.8"/>
<text x="191.3" y="335.93" text-anchor="end" font-family="Liberation Sans, Arial, sans-serif" font-size="12.5" fill="#111" stroke="#111" stroke-width="0.2">0</text>
<text x="63.3" y="349.7" font-family="Liberation Sans, Arial, sans-serif" font-size="12.5" fill="#111" stroke="#111" stroke-width="0.2">Mean (MPa)</text>
<text x="323" y="356" font-family="Liberation Sans, Arial, sans-serif" font-size="12.5" fill="#111" stroke="#111" stroke-width="0.2">Amplitude (MPa)</text>
<text transform="translate(20.5 157.5) rotate(-90)" text-anchor="middle" font-family="Liberation Sans, Arial, sans-serif" font-size="12.6" fill="#111" stroke="#111" stroke-width="0.2">Number of cycles</text>
<rect x="219" y="130.5" width="75.6" height="49.2" fill="#ffffee" stroke="#d4d4c4" stroke-width="0.6"/>
<text x="224.2" y="144.6" font-family="Liberation Sans, Arial, sans-serif" font-size="10.65" fill="#111" stroke="#111" stroke-width="0.2">X: 4.496e-005</text>
<text x="224.2" y="158.35" font-family="Liberation Sans, Arial, sans-serif" font-size="10.65" fill="#111" stroke="#111" stroke-width="0.2">Y: 0.4223</text>
<text x="224.2" y="172.1" font-family="Liberation Sans, Arial, sans-serif" font-size="10.65" fill="#111" stroke="#111" stroke-width="0.2">Z: 132</text>
<rect x="208.8" y="178.5" width="12.4" height="12.4" fill="#ffffd4"/>
<rect x="211.7" y="181.4" width="6.6" height="6.6" fill="#000"/>
<g fill="none" stroke="#404040" stroke-width="0.8" stroke-dasharray="8 6.6">
<polyline points="639.2,168.5 844.9,90.3 1011,198.1"/>
<polyline points="639.2,111 844.9,32.8 1011,140.6"/>
<line x1="669.5" y1="214.48" x2="669.5" y2="69.01" stroke-dasharray="8 7.27"/>
<line x1="700.5" y1="202.7" x2="700.5" y2="57.22" stroke-dasharray="8 7.27" stroke="#aaa"/>
<line x1="731.5" y1="190.91" x2="731.5" y2="45.44" stroke-dasharray="8 7.27"/>
<line x1="763.5" y1="178.75" x2="763.5" y2="33.27" stroke-dasharray="8 7.27" stroke="#aaa"/>
<line x1="794.5" y1="166.96" x2="794.5" y2="21.49" stroke-dasharray="8 7.27" stroke="#aaa"/>
<line x1="825.5" y1="155.18" x2="825.5" y2="9.7" stroke-dasharray="8 7.27"/>
<line x1="860.5" y1="157.92" x2="860.5" y2="12.45" stroke-dasharray="8 7.27"/>
<line x1="894.5" y1="179.99" x2="894.5" y2="34.52" stroke-dasharray="8 7.27"/>
<line x1="928.5" y1="202.06" x2="928.5" y2="56.58" stroke-dasharray="8 7.27" stroke="#999"/>
<line x1="962.5" y1="224.12" x2="962.5" y2="78.65" stroke-dasharray="8 7.27" stroke="#999"/>
<line x1="996.5" y1="246.19" x2="996.5" y2="100.71" stroke-dasharray="8 7.27"/>
</g>
<line x1="639.5" y1="80.53" x2="639.5" y2="226" stroke="#7a7a7a" stroke-width="1"/>
<line x1="639.2" y1="226" x2="634.86" y2="223.14" stroke="#333" stroke-width="0.8"/>
<text x="632.4" y="225.8" text-anchor="end" font-family="Liberation Sans, Arial, sans-serif" font-size="12.5" fill="#111" stroke="#111" stroke-width="0.2">0</text>
<line x1="639.2" y1="168.5" x2="634.86" y2="165.64" stroke="#333" stroke-width="0.8"/>
<text x="632.4" y="168.3" text-anchor="end" font-family="Liberation Sans, Arial, sans-serif" font-size="12.5" fill="#111" stroke="#111" stroke-width="0.2">50</text>
<line x1="639.2" y1="111" x2="634.86" y2="108.14" stroke="#333" stroke-width="0.8"/>
<text x="632.4" y="109.6" text-anchor="end" font-family="Liberation Sans, Arial, sans-serif" font-size="12.5" fill="#111" stroke="#111" stroke-width="0.2">100</text>
<g stroke="#000" stroke-width="0.62" stroke-linejoin="round">
<polygon points="834.62,151.71 842.92,157.1 853.2,153.19 844.9,147.8" fill="#fff"/>
<polygon points="824.33,155.62 832.63,161.02 842.92,157.1 834.62,151.71" fill="#fff"/>
<polygon points="814.04,159.53 822.35,164.93 832.63,161.02 824.33,155.62" fill="#fff"/>
<polygon points="803.76,163.44 812.07,168.85 822.35,164.93 814.04,159.53" fill="#fff"/>
<polygon points="793.47,167.35 801.78,172.76 812.07,168.85 803.76,163.44" fill="#fff"/>
<polygon points="783.19,171.26 791.49,176.68 801.78,172.76 793.47,167.35" fill="#fff"/>
<polygon points="772.91,175.17 781.21,180.59 791.49,176.68 783.19,171.26" fill="#fff"/>
<polygon points="762.62,179.08 770.92,184.51 781.21,180.59 772.91,175.17" fill="#fff"/>
<polygon points="752.34,182.99 760.64,188.42 770.92,184.51 762.62,179.08" fill="#fff"/>
<polygon points="742.05,186.9 750.36,192.33 760.64,188.42 752.34,182.99" fill="#fff"/>
<polygon points="731.77,190.81 740.07,196.25 750.36,192.33 742.05,186.9" fill="#fff"/>
<polygon points="721.48,194.72 729.79,200.16 740.07,196.25 731.77,190.81" fill="#fff"/>
<polygon points="711.19,198.63 719.5,204.08 729.79,200.16 721.48,194.72" fill="#fff"/>
<polygon points="700.91,202.54 709.21,207.99 719.5,204.08 711.19,198.63" fill="#fff"/>
<polygon points="690.62,206.45 698.93,211.91 709.21,207.99 700.91,202.54" fill="#fff"/>
<polygon points="680.34,210.36 688.64,215.82 698.93,211.91 690.62,206.45" fill="#fff"/>
<polygon points="670.06,214.27 678.36,219.74 688.64,215.82 680.34,210.36" fill="#fff"/>
<polygon points="659.77,218.18 668.08,223.65 678.36,219.74 670.06,214.27" fill="#fff"/>
<polygon points="649.49,222.09 657.79,227.57 668.08,223.65 659.77,218.18" fill="#fff"/>
<polygon points="842.92,157.1 851.23,162.5 861.51,158.58 853.2,153.19" fill="#fff"/>
<polygon points="832.63,161.02 840.94,166.42 851.23,162.5 842.92,157.1" fill="#fff"/>
<polygon points="822.35,164.93 830.65,170.34 840.94,166.42 832.63,161.02" fill="#fff"/>
<polygon points="812.07,168.85 820.37,174.26 830.65,170.34 822.35,164.93" fill="#fff"/>
<polygon points="801.78,172.76 810.09,178.18 820.37,174.26 812.07,168.85" fill="#fff"/>
<polygon points="791.49,176.68 799.8,182.09 810.09,178.18 801.78,172.76" fill="#fff"/>
<polygon points="781.21,180.59 789.52,186.01 799.8,182.09 791.49,176.68" fill="#fff"/>
<polygon points="770.92,184.51 779.23,189.93 789.52,186.01 781.21,180.59" fill="#fff"/>
<polygon points="760.64,188.42 768.94,193.85 779.23,189.93 770.92,184.51" fill="#fff"/>
<polygon points="750.36,192.33 758.66,197.77 768.94,193.85 760.64,188.42" fill="#fff"/>
<polygon points="740.07,196.25 748.38,201.69 758.66,197.77 750.36,192.33" fill="#fff"/>
<polygon points="729.79,200.16 738.09,205.61 748.38,201.69 740.07,196.25" fill="#fff"/>
<polygon points="719.5,204.08 727.81,209.53 738.09,205.61 729.79,200.16" fill="#fff"/>
<polygon points="709.21,207.99 717.52,213.45 727.81,209.53 719.5,204.08" fill="#fff"/>
<polygon points="698.93,211.91 707.24,217.37 717.52,213.45 709.21,207.99" fill="#fff"/>
<polygon points="688.64,215.82 696.95,221.28 707.24,217.37 698.93,211.91" fill="#fff"/>
<polygon points="678.36,219.74 686.67,225.2 696.95,221.28 688.64,215.82" fill="#00008f"/>
<polygon points="668.08,223.65 676.38,229.12 686.67,225.2 678.36,219.74" fill="#fff"/>
<polygon points="657.79,227.57 666.1,233.04 676.38,229.12 668.08,223.65" fill="#fff"/>
<polygon points="851.23,162.5 859.53,167.89 869.81,163.97 861.51,158.58" fill="#fff"/>
<polygon points="840.94,166.42 849.24,171.82 859.53,167.89 851.23,162.5" fill="#fff"/>
<polygon points="830.65,170.34 838.96,175.74 849.24,171.82 840.94,166.42" fill="#fff"/>
<polygon points="820.37,174.26 828.67,179.66 838.96,175.74 830.65,170.34" fill="#fff"/>
<polygon points="810.09,178.18 818.39,183.59 828.67,179.66 820.37,174.26" fill="#fff"/>
<polygon points="799.8,182.09 808.11,187.51 818.39,183.59 810.09,178.18" fill="#fff"/>
<polygon points="789.52,186.01 797.82,191.43 808.11,187.51 799.8,182.09" fill="#fff"/>
<polygon points="779.23,189.93 787.54,195.36 797.82,191.43 789.52,186.01" fill="#fff"/>
<polygon points="768.94,193.85 777.25,199.28 787.54,195.36 779.23,189.93" fill="#fff"/>
<polygon points="758.66,197.77 766.96,203.2 777.25,199.28 768.94,193.85" fill="#fff"/>
<polygon points="748.38,201.69 756.68,207.13 766.96,203.2 758.66,197.77" fill="#fff"/>
<polygon points="738.09,205.61 746.39,211.05 756.68,207.13 748.38,201.69" fill="#fff"/>
<polygon points="727.81,209.53 736.11,214.98 746.39,211.05 738.09,205.61" fill="#fff"/>
<polygon points="717.52,213.45 725.83,218.9 736.11,214.98 727.81,209.53" fill="#fff"/>
<polygon points="707.24,217.37 715.54,222.82 725.83,218.9 717.52,213.45" fill="#00008f"/>
<polygon points="686.67,225.2 694.97,230.67 705.26,226.75 696.95,221.28" fill="#fff"/>
<polygon points="676.38,229.12 684.69,234.59 694.97,230.67 686.67,225.2" fill="#fff"/>
<polygon points="666.1,233.04 674.4,238.52 684.69,234.59 676.38,229.12" fill="#fff"/>
<polygon points="859.53,167.89 867.84,173.29 878.12,169.36 869.81,163.97" fill="#fff"/>
<polygon points="849.24,171.82 857.55,177.22 867.84,173.29 859.53,167.89" fill="#fff"/>
<polygon points="838.96,175.74 847.27,181.14 857.55,177.22 849.24,171.82" fill="#fff"/>
<polygon points="828.67,179.66 836.98,185.07 847.27,181.14 838.96,175.74" fill="#fff"/>
<polygon points="818.39,183.59 826.7,189 836.98,185.07 828.67,179.66" fill="#fff"/>
<polygon points="808.11,187.51 816.41,192.93 826.7,189 818.39,183.59" fill="#fff"/>
<polygon points="797.82,191.43 806.12,196.86 816.41,192.93 808.11,187.51" fill="#fff"/>
<polygon points="787.54,195.36 795.84,200.78 806.12,196.86 797.82,191.43" fill="#fff"/>
<polygon points="777.25,199.28 785.56,204.71 795.84,200.78 787.54,195.36" fill="#fff"/>
<polygon points="766.96,203.2 775.27,208.64 785.56,204.71 777.25,199.28" fill="#fff"/>
<polygon points="756.68,207.13 764.99,212.57 775.27,208.64 766.96,203.2" fill="#fff"/>
<polygon points="746.39,211.05 754.7,216.5 764.99,212.57 756.68,207.13" fill="#fff"/>
<polygon points="736.11,214.98 744.41,220.42 754.7,216.5 746.39,211.05" fill="#fff"/>
<polygon points="725.83,218.9 734.13,224.35 744.41,220.42 736.11,214.98" fill="#fff"/>
<polygon points="715.54,222.82 723.85,228.28 734.13,224.35 725.83,218.9" fill="#fff"/>
<polygon points="705.26,226.75 713.56,232.21 723.85,228.28 715.54,222.82" fill="#fff"/>
<polygon points="694.97,230.67 703.28,236.14 713.56,232.21 705.26,226.75" fill="#fff"/>
<polygon points="684.69,234.59 692.99,240.06 703.28,236.14 694.97,230.67" fill="#fff"/>
<polygon points="674.4,238.52 682.71,243.99 692.99,240.06 684.69,234.59" fill="#fff"/>
<polygon points="867.84,173.29 876.14,178.68 886.42,174.75 878.12,169.36" fill="#fff"/>
<polygon points="857.55,177.22 865.86,182.62 876.14,178.68 867.84,173.29" fill="#fff"/>
<polygon points="847.27,181.14 855.57,186.55 865.86,182.62 857.55,177.22" fill="#fff"/>
<polygon points="836.98,185.07 845.29,190.48 855.57,186.55 847.27,181.14" fill="#fff"/>
<polygon points="826.7,189 835,194.41 845.29,190.48 836.98,185.07" fill="#fff"/>
<polygon points="816.41,192.93 824.71,198.34 835,194.41 826.7,189" fill="#fff"/>
<polygon points="806.12,196.86 814.43,202.28 824.71,198.34 816.41,192.93" fill="#fff"/>
<polygon points="795.84,200.78 804.14,206.21 814.43,202.28 806.12,196.86" fill="#fff"/>
<polygon points="785.56,204.71 793.86,210.14 804.14,206.21 795.84,200.78" fill="#fff"/>
<polygon points="775.27,208.64 783.58,214.08 793.86,210.14 785.56,204.71" fill="#fff"/>
<polygon points="764.99,212.57 773.29,218.01 783.58,214.08 775.27,208.64" fill="#fff"/>
<polygon points="754.7,216.5 763,221.94 773.29,218.01 764.99,212.57" fill="#fff"/>
<polygon points="744.41,220.42 752.72,225.87 763,221.94 754.7,216.5" fill="#fff"/>
<polygon points="734.13,224.35 742.43,229.8 752.72,225.87 744.41,220.42" fill="#fff"/>
<polygon points="723.85,228.28 732.15,233.74 742.43,229.8 734.13,224.35" fill="#fff"/>
<polygon points="713.56,232.21 721.87,237.67 732.15,233.74 723.85,228.28" fill="#fff"/>
<polygon points="703.28,236.14 711.58,241.6 721.87,237.67 713.56,232.21" fill="#fff"/>
<polygon points="692.99,240.06 701.3,245.53 711.58,241.6 703.28,236.14" fill="#fff"/>
<polygon points="682.71,243.99 691.01,249.47 701.3,245.53 692.99,240.06" fill="#fff"/>
<polygon points="876.14,178.68 884.44,184.08 894.73,180.14 886.42,174.75" fill="#fff"/>
<polygon points="865.86,182.62 874.16,188.01 884.44,184.08 876.14,178.68" fill="#fff"/>
<polygon points="855.57,186.55 863.88,191.95 874.16,188.01 865.86,182.62" fill="#fff"/>
<polygon points="845.29,190.48 853.59,195.89 863.88,191.95 855.57,186.55" fill="#fff"/>
<polygon points="835,194.41 843.3,199.82 853.59,195.89 845.29,190.48" fill="#fff"/>
<polygon points="824.71,198.34 833.02,203.76 843.3,199.82 835,194.41" fill="#fff"/>
<polygon points="814.43,202.28 822.73,207.7 833.02,203.76 824.71,198.34" fill="#fff"/>
<polygon points="804.14,206.21 812.45,211.64 822.73,207.7 814.43,202.28" fill="#fff"/>
<polygon points="793.86,210.14 802.16,215.57 812.45,211.64 804.14,206.21" fill="#fff"/>
<polygon points="783.58,214.08 791.88,219.51 802.16,215.57 793.86,210.14" fill="#fff"/>
<polygon points="773.29,218.01 781.6,223.45 791.88,219.51 783.58,214.08" fill="#fff"/>
<polygon points="763,221.94 771.31,227.38 781.6,223.45 773.29,218.01" fill="#fff"/>
<polygon points="752.72,225.87 761.02,231.32 771.31,227.38 763,221.94" fill="#fff"/>
<polygon points="742.43,229.8 750.74,235.26 761.02,231.32 752.72,225.87" fill="#fff"/>
<polygon points="732.15,233.74 740.45,239.19 750.74,235.26 742.43,229.8" fill="#fff"/>
<polygon points="721.87,237.67 730.17,243.13 740.45,239.19 732.15,233.74" fill="#fff"/>
<polygon points="711.58,241.6 719.89,247.07 730.17,243.13 721.87,237.67" fill="#fff"/>
<polygon points="701.3,245.53 709.6,251.01 719.89,247.07 711.58,241.6" fill="#fff"/>
<polygon points="691.01,249.47 699.31,254.94 709.6,251.01 701.3,245.53" fill="#fff"/>
<polygon points="884.44,184.08 892.75,189.47 903.04,185.53 894.73,180.14" fill="#fff"/>
<polygon points="874.16,188.01 882.47,193.41 892.75,189.47 884.44,184.08" fill="#fff"/>
<polygon points="863.88,191.95 872.18,197.35 882.47,193.41 874.16,188.01" fill="#fff"/>
<polygon points="853.59,195.89 861.89,201.3 872.18,197.35 863.88,191.95" fill="#fff"/>
<polygon points="843.3,199.82 851.61,205.24 861.89,201.3 853.59,195.89" fill="#fff"/>
<polygon points="833.02,203.76 841.32,209.18 851.61,205.24 843.3,199.82" fill="#fff"/>
<polygon points="822.73,207.7 831.04,213.12 841.32,209.18 833.02,203.76" fill="#fff"/>
<polygon points="812.45,211.64 820.75,217.06 831.04,213.12 822.73,207.7" fill="#fff"/>
<polygon points="802.16,215.57 810.47,221 820.75,217.06 812.45,211.64" fill="#fff"/>
<polygon points="791.88,219.51 800.18,224.94 810.47,221 802.16,215.57" fill="#fff"/>
<polygon points="781.6,223.45 789.9,228.89 800.18,224.94 791.88,219.51" fill="#fff"/>
<polygon points="771.31,227.38 779.62,232.83 789.9,228.89 781.6,223.45" fill="#fff"/>
<polygon points="761.02,231.32 769.33,236.77 779.62,232.83 771.31,227.38" fill="#fff"/>
<polygon points="750.74,235.26 759.04,240.71 769.33,236.77 761.02,231.32" fill="#fff"/>
<polygon points="740.45,239.19 748.76,244.65 759.04,240.71 750.74,235.26" fill="#fff"/>
<polygon points="730.17,243.13 738.47,248.59 748.76,244.65 740.45,239.19" fill="#fff"/>
<polygon points="719.89,247.07 728.19,252.54 738.47,248.59 730.17,243.13" fill="#fff"/>
<polygon points="709.6,251.01 717.91,256.48 728.19,252.54 719.89,247.07" fill="#fff"/>
<polygon points="689.03,258.88 697.34,264.36 707.62,260.42 699.31,254.94" fill="#fff"/>
<polygon points="892.75,189.47 901.06,194.87 911.34,190.92 903.04,185.53" fill="#fff"/>
<polygon points="882.47,193.41 890.77,198.81 901.06,194.87 892.75,189.47" fill="#fff"/>
<polygon points="872.18,197.35 880.49,202.76 890.77,198.81 882.47,193.41" fill="#fff"/>
<polygon points="861.89,201.3 870.2,206.7 880.49,202.76 872.18,197.35" fill="#fff"/>
<polygon points="851.61,205.24 859.91,210.65 870.2,206.7 861.89,201.3" fill="#fff"/>
<polygon points="841.32,209.18 849.63,214.6 859.91,210.65 851.61,205.24" fill="#fff"/>
<polygon points="831.04,213.12 839.35,218.54 849.63,214.6 841.32,209.18" fill="#fff"/>
<polygon points="820.75,217.06 829.06,222.49 839.35,218.54 831.04,213.12" fill="#fff"/>
<polygon points="810.47,221 818.77,226.43 829.06,222.49 820.75,217.06" fill="#fff"/>
<polygon points="800.18,224.94 808.49,230.38 818.77,226.43 810.47,221" fill="#fff"/>
<polygon points="789.9,228.89 798.21,234.33 808.49,230.38 800.18,224.94" fill="#fff"/>
<polygon points="779.62,232.83 787.92,238.27 798.21,234.33 789.9,228.89" fill="#fff"/>
<polygon points="769.33,236.77 777.63,242.22 787.92,238.27 779.62,232.83" fill="#fff"/>
<polygon points="759.04,240.71 767.35,246.16 777.63,242.22 769.33,236.77" fill="#fff"/>
<polygon points="748.76,244.65 757.07,250.11 767.35,246.16 759.04,240.71" fill="#fff"/>
<polygon points="738.47,248.59 746.78,254.06 757.07,250.11 748.76,244.65" fill="#fff"/>
<polygon points="728.19,252.54 736.5,258 746.78,254.06 738.47,248.59" fill="#fff"/>
<polygon points="717.91,256.48 726.21,261.95 736.5,258 728.19,252.54" fill="#fff"/>
<polygon points="707.62,260.42 715.92,265.89 726.21,261.95 717.91,256.48" fill="#fff"/>
<polygon points="901.06,194.87 909.36,200.26 919.64,196.31 911.34,190.92" fill="#fff"/>
<polygon points="890.77,198.81 899.08,204.21 909.36,200.26 901.06,194.87" fill="#fff"/>
<polygon points="880.49,202.76 888.79,208.16 899.08,204.21 890.77,198.81" fill="#00008f"/>
<polygon points="870.2,206.7 878.51,212.11 888.79,208.16 880.49,202.76" fill="#fff"/>
<polygon points="859.91,210.65 868.22,216.06 878.51,212.11 870.2,206.7" fill="#fff"/>
<polygon points="849.63,214.6 857.93,220.01 868.22,216.06 859.91,210.65" fill="#fff"/>
<polygon points="839.35,218.54 847.65,223.96 857.93,220.01 849.63,214.6" fill="#fff"/>
<polygon points="829.06,222.49 837.37,227.91 847.65,223.96 839.35,218.54" fill="#fff"/>
<polygon points="818.77,226.43 827.08,231.86 837.37,227.91 829.06,222.49" fill="#fff"/>
<polygon points="808.49,230.38 816.8,235.82 827.08,231.86 818.77,226.43" fill="#fff"/>
<polygon points="798.21,234.33 806.51,239.77 816.8,235.82 808.49,230.38" fill="#fff"/>
<polygon points="787.92,238.27 796.23,243.72 806.51,239.77 798.21,234.33" fill="#fff"/>
<polygon points="777.63,242.22 785.94,247.67 796.23,243.72 787.92,238.27" fill="#fff"/>
<polygon points="767.35,246.16 775.65,251.62 785.94,247.67 777.63,242.22" fill="#fff"/>
<polygon points="757.07,250.11 765.37,255.57 775.65,251.62 767.35,246.16" fill="#fff"/>
<polygon points="746.78,254.06 755.09,259.52 765.37,255.57 757.07,250.11" fill="#fff"/>
<polygon points="736.5,258 744.8,263.47 755.09,259.52 746.78,254.06" fill="#fff"/>
<polygon points="726.21,261.95 734.52,267.42 744.8,263.47 736.5,258" fill="#fff"/>
<polygon points="715.92,265.89 724.23,271.37 734.52,267.42 726.21,261.95" fill="#fff"/>
<polygon points="705.64,269.84 713.95,275.32 724.23,271.37 715.92,265.89" fill="#fff"/>
<polygon points="909.36,200.26 917.66,205.66 927.95,201.7 919.64,196.31" fill="#fff"/>
<polygon points="899.08,204.21 907.38,209.61 917.66,205.66 909.36,200.26" fill="#fff"/>
<polygon points="888.79,208.16 897.1,213.56 907.38,209.61 899.08,204.21" fill="#fff"/>
<polygon points="878.51,212.11 886.81,217.52 897.1,213.56 888.79,208.16" fill="#fff"/>
<polygon points="868.22,216.06 876.52,221.48 886.81,217.52 878.51,212.11" fill="#fff"/>
<polygon points="857.93,220.01 866.24,225.43 876.52,221.48 868.22,216.06" fill="#fff"/>
<polygon points="847.65,223.96 855.95,229.39 866.24,225.43 857.93,220.01" fill="#fff"/>
<polygon points="837.37,227.91 845.67,233.34 855.95,229.39 847.65,223.96" fill="#fff"/>
<polygon points="827.08,231.86 835.38,237.29 845.67,233.34 837.37,227.91" fill="#fff"/>
<polygon points="816.8,235.82 825.1,241.25 835.38,237.29 827.08,231.86" fill="#fff"/>
<polygon points="806.51,239.77 814.82,245.21 825.1,241.25 816.8,235.82" fill="#fff"/>
<polygon points="796.23,243.72 804.53,249.16 814.82,245.21 806.51,239.77" fill="#fff"/>
<polygon points="785.94,247.67 794.24,253.12 804.53,249.16 796.23,243.72" fill="#fff"/>
<polygon points="775.65,251.62 783.96,257.07 794.24,253.12 785.94,247.67" fill="#fff"/>
<polygon points="765.37,255.57 773.67,261.03 783.96,257.07 775.65,251.62" fill="#fff"/>
<polygon points="755.09,259.52 763.39,264.98 773.67,261.03 765.37,255.57" fill="#fff"/>
<polygon points="744.8,263.47 753.11,268.94 763.39,264.98 755.09,259.52" fill="#fff"/>
<polygon points="734.52,267.42 742.82,272.89 753.11,268.94 744.8,263.47" fill="#fff"/>
<polygon points="724.23,271.37 732.54,276.84 742.82,272.89 734.52,267.42" fill="#fff"/>
<polygon points="713.95,275.32 722.25,280.8 732.54,276.84 724.23,271.37" fill="#fff"/>
<polygon points="917.66,205.66 925.97,211.05 936.25,207.09 927.95,201.7" fill="#00008f"/>
<polygon points="907.38,209.61 915.68,215.01 925.97,211.05 917.66,205.66" fill="#fff"/>
<polygon points="897.1,213.56 905.4,218.97 915.68,215.01 907.38,209.61" fill="#fff"/>
<polygon points="886.81,217.52 895.12,222.93 905.4,218.97 897.1,213.56" fill="#fff"/>
<polygon points="876.52,221.48 884.83,226.89 895.12,222.93 886.81,217.52" fill="#fff"/>
<polygon points="866.24,225.43 874.55,230.85 884.83,226.89 876.52,221.48" fill="#fff"/>
<polygon points="855.95,229.39 864.26,234.81 874.55,230.85 866.24,225.43" fill="#fff"/>
<polygon points="845.67,233.34 853.98,238.77 864.26,234.81 855.95,229.39" fill="#fff"/>
<polygon points="835.38,237.29 843.69,242.73 853.98,238.77 845.67,233.34" fill="#fff"/>
<polygon points="825.1,241.25 833.4,246.69 843.69,242.73 835.38,237.29" fill="#fff"/>
<polygon points="814.82,245.21 823.12,250.64 833.4,246.69 825.1,241.25" fill="#fff"/>
<polygon points="804.53,249.16 812.83,254.6 823.12,250.64 814.82,245.21" fill="#fff"/>
<polygon points="794.24,253.12 802.55,258.56 812.83,254.6 804.53,249.16" fill="#fff"/>
<polygon points="783.96,257.07 792.27,262.52 802.55,258.56 794.24,253.12" fill="#fff"/>
<polygon points="773.67,261.03 781.98,266.48 792.27,262.52 783.96,257.07" fill="#fff"/>
<polygon points="763.39,264.98 771.7,270.44 781.98,266.48 773.67,261.03" fill="#fff"/>
<polygon points="753.11,268.94 761.41,274.4 771.7,270.44 763.39,264.98" fill="#fff"/>
<polygon points="742.82,272.89 751.12,278.36 761.41,274.4 753.11,268.94" fill="#fff"/>
<polygon points="732.54,276.84 740.84,282.32 751.12,278.36 742.82,272.89" fill="#fff"/>
<polygon points="722.25,280.8 730.56,286.28 740.84,282.32 732.54,276.84" fill="#fff"/>
<polygon points="925.97,211.05 934.27,216.44 944.56,212.48 936.25,207.09" fill="#fff"/>
<polygon points="915.68,215.01 923.99,220.41 934.27,216.44 925.97,211.05" fill="#fff"/>
<polygon points="905.4,218.97 913.71,224.37 923.99,220.41 915.68,215.01" fill="#fff"/>
<polygon points="895.12,222.93 903.42,228.34 913.71,224.37 905.4,218.97" fill="#fff"/>
<polygon points="884.83,226.89 893.13,232.3 903.42,228.34 895.12,222.93" fill="#fff"/>
<polygon points="874.55,230.85 882.85,236.26 893.13,232.3 884.83,226.89" fill="#fff"/>
<polygon points="864.26,234.81 872.57,240.23 882.85,236.26 874.55,230.85" fill="#fff"/>
<polygon points="853.98,238.77 862.28,244.19 872.57,240.23 864.26,234.81" fill="#fff"/>
<polygon points="843.69,242.73 852,248.16 862.28,244.19 853.98,238.77" fill="#fff"/>
<polygon points="833.4,246.69 841.71,252.12 852,248.16 843.69,242.73" fill="#fff"/>
<polygon points="823.12,250.64 831.43,256.08 841.71,252.12 833.4,246.69" fill="#fff"/>
<polygon points="812.83,254.6 821.14,260.05 831.43,256.08 823.12,250.64" fill="#fff"/>
<polygon points="802.55,258.56 810.85,264.01 821.14,260.05 812.83,254.6" fill="#fff"/>
<polygon points="792.27,262.52 800.57,267.98 810.85,264.01 802.55,258.56" fill="#fff"/>
<polygon points="781.98,266.48 790.28,271.94 800.57,267.98 792.27,262.52" fill="#fff"/>
<polygon points="771.7,270.44 780,275.9 790.28,271.94 781.98,266.48" fill="#fff"/>
<polygon points="761.41,274.4 769.71,279.87 780,275.9 771.7,270.44" fill="#fff"/>
<polygon points="751.12,278.36 759.43,283.83 769.71,279.87 761.41,274.4" fill="#fff"/>
<polygon points="740.84,282.32 749.14,287.8 759.43,283.83 751.12,278.36" fill="#fff"/>
<polygon points="934.27,216.44 942.58,221.84 952.87,217.87 944.56,212.48" fill="#fff"/>
<polygon points="923.99,220.41 932.3,225.81 942.58,221.84 934.27,216.44" fill="#fff"/>
<polygon points="913.71,224.37 922.01,229.78 932.3,225.81 923.99,220.41" fill="#fff"/>
<polygon points="903.42,228.34 911.73,233.74 922.01,229.78 913.71,224.37" fill="#fff"/>
<polygon points="893.13,232.3 901.44,237.71 911.73,233.74 903.42,228.34" fill="#fff"/>
<polygon points="882.85,236.26 891.15,241.68 901.44,237.71 893.13,232.3" fill="#fff"/>
<polygon points="872.57,240.23 880.87,245.65 891.15,241.68 882.85,236.26" fill="#fff"/>
<polygon points="862.28,244.19 870.58,249.62 880.87,245.65 872.57,240.23" fill="#fff"/>
<polygon points="852,248.16 860.3,253.59 870.58,249.62 862.28,244.19" fill="#fff"/>
<polygon points="841.71,252.12 850.01,257.56 860.3,253.59 852,248.16" fill="#fff"/>
<polygon points="831.43,256.08 839.73,261.52 850.01,257.56 841.71,252.12" fill="#fff"/>
<polygon points="821.14,260.05 829.44,265.49 839.73,261.52 831.43,256.08" fill="#fff"/>
<polygon points="810.85,264.01 819.16,269.46 829.44,265.49 821.14,260.05" fill="#fff"/>
<polygon points="800.57,267.98 808.88,273.43 819.16,269.46 810.85,264.01" fill="#fff"/>
<polygon points="790.28,271.94 798.59,277.4 808.88,273.43 800.57,267.98" fill="#fff"/>
<polygon points="780,275.9 788.31,281.37 798.59,277.4 790.28,271.94" fill="#fff"/>
<polygon points="769.71,279.87 778.02,285.33 788.31,281.37 780,275.9" fill="#fff"/>
<polygon points="759.43,283.83 767.74,289.3 778.02,285.33 769.71,279.87" fill="#fff"/>
<polygon points="749.14,287.8 757.45,293.27 767.74,289.3 759.43,283.83" fill="#fff"/>
<polygon points="942.58,221.84 950.88,227.23 961.17,223.26 952.87,217.87" fill="#fff"/>
<polygon points="932.3,225.81 940.6,231.21 950.88,227.23 942.58,221.84" fill="#fff"/>
<polygon points="922.01,229.78 930.32,235.18 940.6,231.21 932.3,225.81" fill="#fff"/>
<polygon points="911.73,233.74 920.03,239.15 930.32,235.18 922.01,229.78" fill="#fff"/>
<polygon points="901.44,237.71 909.74,243.12 920.03,239.15 911.73,233.74" fill="#fff"/>
<polygon points="891.15,241.68 899.46,247.1 909.74,243.12 901.44,237.71" fill="#fff"/>
<polygon points="880.87,245.65 889.17,251.07 899.46,247.1 891.15,241.68" fill="#fff"/>
<polygon points="870.58,249.62 878.89,255.04 889.17,251.07 880.87,245.65" fill="#fff"/>
<polygon points="860.3,253.59 868.61,259.02 878.89,255.04 870.58,249.62" fill="#fff"/>
<polygon points="850.01,257.56 858.32,262.99 868.61,259.02 860.3,253.59" fill="#fff"/>
<polygon points="839.73,261.52 848.04,266.96 858.32,262.99 850.01,257.56" fill="#fff"/>
<polygon points="829.44,265.49 837.75,270.94 848.04,266.96 839.73,261.52" fill="#fff"/>
<polygon points="819.16,269.46 827.46,274.91 837.75,270.94 829.44,265.49" fill="#fff"/>
<polygon points="808.88,273.43 817.18,278.88 827.46,274.91 819.16,269.46" fill="#fff"/>
<polygon points="798.59,277.4 806.89,282.85 817.18,278.88 808.88,273.43" fill="#fff"/>
<polygon points="788.31,281.37 796.61,286.83 806.89,282.85 798.59,277.4" fill="#fff"/>
<polygon points="778.02,285.33 786.32,290.8 796.61,286.83 788.31,281.37" fill="#fff"/>
<polygon points="767.74,289.3 776.04,294.77 786.32,290.8 778.02,285.33" fill="#fff"/>
<polygon points="757.45,293.27 765.75,298.75 776.04,294.77 767.74,289.3" fill="#fff"/>
<polygon points="747.16,297.24 755.47,302.72 765.75,298.75 757.45,293.27" fill="#fff"/>
<polygon points="950.88,227.23 959.19,232.63 969.48,228.65 961.17,223.26" fill="#fff"/>
<polygon points="940.6,231.21 948.9,236.6 959.19,232.63 950.88,227.23" fill="#fff"/>
<polygon points="930.32,235.18 938.62,240.58 948.9,236.6 940.6,231.21" fill="#fff"/>
<polygon points="920.03,239.15 928.34,244.56 938.62,240.58 930.32,235.18" fill="#fff"/>
<polygon points="909.74,243.12 918.05,248.54 928.34,244.56 920.03,239.15" fill="#fff"/>
<polygon points="899.46,247.1 907.76,252.51 918.05,248.54 909.74,243.12" fill="#fff"/>
<polygon points="889.17,251.07 897.48,256.49 907.76,252.51 899.46,247.1" fill="#fff"/>
<polygon points="878.89,255.04 887.2,260.47 897.48,256.49 889.17,251.07" fill="#fff"/>
<polygon points="868.61,259.02 876.91,264.45 887.2,260.47 878.89,255.04" fill="#fff"/>
<polygon points="858.32,262.99 866.62,268.43 876.91,264.45 868.61,259.02" fill="#fff"/>
<polygon points="848.04,266.96 856.34,272.4 866.62,268.43 858.32,262.99" fill="#fff"/>
<polygon points="837.75,270.94 846.06,276.38 856.34,272.4 848.04,266.96" fill="#fff"/>
<polygon points="827.46,274.91 835.77,280.36 846.06,276.38 837.75,270.94" fill="#fff"/>
<polygon points="817.18,278.88 825.48,284.33 835.77,280.36 827.46,274.91" fill="#fff"/>
<polygon points="806.89,282.85 815.2,288.31 825.48,284.33 817.18,278.88" fill="#fff"/>
<polygon points="796.61,286.83 804.92,292.29 815.2,288.31 806.89,282.85" fill="#fff"/>
<polygon points="786.32,290.8 794.63,296.27 804.92,292.29 796.61,286.83" fill="#fff"/>
<polygon points="776.04,294.77 784.35,300.25 794.63,296.27 786.32,290.8" fill="#fff"/>
<polygon points="765.75,298.75 774.06,304.22 784.35,300.25 776.04,294.77" fill="#fff"/>
<polygon points="755.47,302.72 763.77,308.2 774.06,304.22 765.75,298.75" fill="#fff"/>
<polygon points="959.19,232.63 967.5,238.02 977.78,234.04 969.48,228.65" fill="#fff"/>
<polygon points="948.9,236.6 957.21,242 967.5,238.02 959.19,232.63" fill="#fff"/>
<polygon points="938.62,240.58 946.92,245.99 957.21,242 948.9,236.6" fill="#fff"/>
<polygon points="928.34,244.56 936.64,249.97 946.92,245.99 938.62,240.58" fill="#fff"/>
<polygon points="918.05,248.54 926.36,253.95 936.64,249.97 928.34,244.56" fill="#fff"/>
<polygon points="907.76,252.51 916.07,257.93 926.36,253.95 918.05,248.54" fill="#fff"/>
<polygon points="897.48,256.49 905.78,261.91 916.07,257.93 907.76,252.51" fill="#fff"/>
<polygon points="887.2,260.47 895.5,265.9 905.78,261.91 897.48,256.49" fill="#fff"/>
<polygon points="876.91,264.45 885.21,269.88 895.5,265.9 887.2,260.47" fill="#fff"/>
<polygon points="866.62,268.43 874.93,273.86 885.21,269.88 876.91,264.45" fill="#fff"/>
<polygon points="856.34,272.4 864.64,277.84 874.93,273.86 866.62,268.43" fill="#fff"/>
<polygon points="846.06,276.38 854.36,281.82 864.64,277.84 856.34,272.4" fill="#fff"/>
<polygon points="835.77,280.36 844.08,285.81 854.36,281.82 846.06,276.38" fill="#fff"/>
<polygon points="825.48,284.33 833.79,289.79 844.08,285.81 835.77,280.36" fill="#fff"/>
<polygon points="815.2,288.31 823.51,293.77 833.79,289.79 825.48,284.33" fill="#fff"/>
<polygon points="804.92,292.29 813.22,297.75 823.51,293.77 815.2,288.31" fill="#fff"/>
<polygon points="794.63,296.27 802.93,301.73 813.22,297.75 804.92,292.29" fill="#fff"/>
<polygon points="784.35,300.25 792.65,305.72 802.93,301.73 794.63,296.27" fill="#fff"/>
<polygon points="774.06,304.22 782.37,309.7 792.65,305.72 784.35,300.25" fill="#fff"/>
<polygon points="967.5,238.02 975.8,243.42 986.09,239.43 977.78,234.04" fill="#fff"/>
<polygon points="957.21,242 965.51,247.4 975.8,243.42 967.5,238.02" fill="#fff"/>
<polygon points="946.92,245.99 955.23,251.39 965.51,247.4 957.21,242" fill="#fff"/>
<polygon points="936.64,249.97 944.95,255.38 955.23,251.39 946.92,245.99" fill="#fff"/>
<polygon points="926.36,253.95 934.66,259.36 944.95,255.38 936.64,249.97" fill="#fff"/>
<polygon points="916.07,257.93 924.38,263.35 934.66,259.36 926.36,253.95" fill="#fff"/>
<polygon points="905.78,261.91 914.09,267.34 924.38,263.35 916.07,257.93" fill="#fff"/>
<polygon points="895.5,265.9 903.81,271.32 914.09,267.34 905.78,261.91" fill="#fff"/>
<polygon points="885.21,269.88 893.52,275.31 903.81,271.32 895.5,265.9" fill="#fff"/>
<polygon points="874.93,273.86 883.24,279.29 893.52,275.31 885.21,269.88" fill="#fff"/>
<polygon points="864.64,277.84 872.95,283.28 883.24,279.29 874.93,273.86" fill="#fff"/>
<polygon points="854.36,281.82 862.66,287.27 872.95,283.28 864.64,277.84" fill="#fff"/>
<polygon points="844.08,285.81 852.38,291.25 862.66,287.27 854.36,281.82" fill="#fff"/>
<polygon points="833.79,289.79 842.09,295.24 852.38,291.25 844.08,285.81" fill="#fff"/>
<polygon points="823.51,293.77 831.81,299.23 842.09,295.24 833.79,289.79" fill="#fff"/>
<polygon points="813.22,297.75 821.53,303.21 831.81,299.23 823.51,293.77" fill="#fff"/>
<polygon points="802.93,301.73 811.24,307.2 821.53,303.21 813.22,297.75" fill="#fff"/>
<polygon points="792.65,305.72 800.96,311.19 811.24,307.2 802.93,301.73" fill="#fff"/>
<polygon points="782.37,309.7 790.67,315.17 800.96,311.19 792.65,305.72" fill="#fff"/>
<polygon points="975.8,243.42 984.11,248.81 994.39,244.82 986.09,239.43" fill="#fff"/>
<polygon points="965.51,247.4 973.82,252.8 984.11,248.81 975.8,243.42" fill="#fff"/>
<polygon points="955.23,251.39 963.53,256.79 973.82,252.8 965.51,247.4" fill="#fff"/>
<polygon points="944.95,255.38 953.25,260.78 963.53,256.79 955.23,251.39" fill="#fff"/>
<polygon points="934.66,259.36 942.97,264.77 953.25,260.78 944.95,255.38" fill="#fff"/>
<polygon points="924.38,263.35 932.68,268.77 942.97,264.77 934.66,259.36" fill="#fff"/>
<polygon points="914.09,267.34 922.39,272.76 932.68,268.77 924.38,263.35" fill="#fff"/>
<polygon points="903.81,271.32 912.11,276.75 922.39,272.76 914.09,267.34" fill="#fff"/>
<polygon points="893.52,275.31 901.83,280.74 912.11,276.75 903.81,271.32" fill="#fff"/>
<polygon points="883.24,279.29 891.54,284.73 901.83,280.74 893.52,275.31" fill="#fff"/>
<polygon points="872.95,283.28 881.25,288.72 891.54,284.73 883.24,279.29" fill="#fff"/>
<polygon points="862.66,287.27 870.97,292.71 881.25,288.72 872.95,283.28" fill="#fff"/>
<polygon points="852.38,291.25 860.68,296.7 870.97,292.71 862.66,287.27" fill="#fff"/>
<polygon points="842.09,295.24 850.4,300.69 860.68,296.7 852.38,291.25" fill="#fff"/>
<polygon points="811.24,307.2 819.54,312.67 829.83,308.68 821.53,303.21" fill="#00008f"/>
<polygon points="800.96,311.19 809.26,316.66 819.54,312.67 811.24,307.2" fill="#00008f"/>
<polygon points="984.11,248.81 992.41,254.21 1002.69,250.21 994.39,244.82" fill="#fff"/>
<polygon points="973.82,252.8 982.12,258.2 992.41,254.21 984.11,248.81" fill="#fff"/>
<polygon points="963.53,256.79 971.84,262.2 982.12,258.2 973.82,252.8" fill="#fff"/>
<polygon points="953.25,260.78 961.56,266.19 971.84,262.2 963.53,256.79" fill="#fff"/>
<polygon points="942.97,264.77 951.27,270.19 961.56,266.19 953.25,260.78" fill="#fff"/>
<polygon points="932.68,268.77 940.99,274.18 951.27,270.19 942.97,264.77" fill="#fff"/>
<polygon points="922.39,272.76 930.7,278.18 940.99,274.18 932.68,268.77" fill="#fff"/>
<polygon points="912.11,276.75 920.41,282.17 930.7,278.18 922.39,272.76" fill="#fff"/>
<polygon points="901.83,280.74 910.13,286.17 920.41,282.17 912.11,276.75" fill="#fff"/>
<polygon points="891.54,284.73 899.85,290.17 910.13,286.17 901.83,280.74" fill="#fff"/>
<polygon points="881.25,288.72 889.56,294.16 899.85,290.17 891.54,284.73" fill="#fff"/>
<polygon points="870.97,292.71 879.27,298.16 889.56,294.16 881.25,288.72" fill="#fff"/>
<polygon points="860.68,296.7 868.99,302.15 879.27,298.16 870.97,292.71" fill="#fff"/>
<polygon points="850.4,300.69 858.7,306.15 868.99,302.15 860.68,296.7" fill="#fff"/>
<polygon points="840.11,304.69 848.42,310.14 858.7,306.15 850.4,300.69" fill="#fff"/>
<polygon points="809.26,316.66 817.56,322.13 827.85,318.13 819.54,312.67" fill="#fff"/>
<polygon points="992.41,254.21 1000.71,259.6 1011,255.6 1002.69,250.21" fill="#fff"/>
<polygon points="982.12,258.2 990.43,263.6 1000.71,259.6 992.41,254.21" fill="#fff"/>
<polygon points="971.84,262.2 980.14,267.6 990.43,263.6 982.12,258.2" fill="#fff"/>
<polygon points="961.56,266.19 969.86,271.6 980.14,267.6 971.84,262.2" fill="#fff"/>
<polygon points="951.27,270.19 959.58,275.6 969.86,271.6 961.56,266.19" fill="#fff"/>
<polygon points="940.99,274.18 949.29,279.6 959.58,275.6 951.27,270.19" fill="#fff"/>
<polygon points="930.7,278.18 939,283.6 949.29,279.6 940.99,274.18" fill="#fff"/>
<polygon points="920.41,282.17 928.72,287.6 939,283.6 930.7,278.18" fill="#fff"/>
<polygon points="910.13,286.17 918.43,291.6 928.72,287.6 920.41,282.17" fill="#fff"/>
<polygon points="899.85,290.17 908.15,295.6 918.43,291.6 910.13,286.17" fill="#fff"/>
<polygon points="889.56,294.16 897.87,299.6 908.15,295.6 899.85,290.17" fill="#fff"/>
<polygon points="879.27,298.16 887.58,303.6 897.87,299.6 889.56,294.16" fill="#fff"/>
<polygon points="868.99,302.15 877.29,307.6 887.58,303.6 879.27,298.16" fill="#fff"/>
<polygon points="858.7,306.15 867.01,311.6 877.29,307.6 868.99,302.15" fill="#fff"/>
<polygon points="848.42,310.14 856.72,315.6 867.01,311.6 858.7,306.15" fill="#fff"/>
<polygon points="838.13,314.14 846.44,319.6 856.72,315.6 848.42,310.14" fill="#fff"/>
<polygon points="827.85,318.13 836.15,323.6 846.44,319.6 838.13,314.14" fill="#fff"/>
<polygon points="817.56,322.13 825.87,327.6 836.15,323.6 827.85,318.13" fill="#fff"/>
<polygon points="807.28,326.12 815.58,331.6 825.87,327.6 817.56,322.13" fill="#fff"/>
</g>
<g fill="none" stroke="#000" stroke-width="0.75" stroke-dasharray="6.5 8.1">
<line x1="836.44" y1="323.49" x2="670.34" y2="214.16"/>
<line x1="867.58" y1="311.38" x2="701.48" y2="202.32"/>
<line x1="898.72" y1="299.27" x2="732.62" y2="190.48"/>
<line x1="929.86" y1="287.16" x2="763.76" y2="178.65"/>
<line x1="961" y1="275.05" x2="794.9" y2="166.81"/>
<line x1="992.14" y1="262.93" x2="826.04" y2="154.97"/>
<line x1="654.7" y1="236.23" x2="860.4" y2="157.86"/>
<line x1="688.55" y1="258.56" x2="894.25" y2="179.83"/>
<line x1="722.4" y1="280.9" x2="928.1" y2="201.8"/>
<line x1="756.25" y1="303.23" x2="961.95" y2="223.77"/>
<line x1="790.1" y1="325.57" x2="995.8" y2="245.74"/>
</g>
<g stroke="#000" stroke-width="0.62" stroke-linejoin="round">
<polygon points="678.36,219.74 686.67,225.2 696.95,221.28 688.64,215.82" fill="#00008f"/>
<polygon points="707.24,217.37 715.54,222.82 725.83,218.9 717.52,213.45" fill="#00008f"/>
<polygon points="880.49,202.76 888.79,208.16 899.08,204.21 890.77,198.81" fill="#00008f"/>
<polygon points="917.66,205.66 925.97,211.05 936.25,207.09 927.95,201.7" fill="#00008f"/>
<polygon points="811.24,307.2 819.54,312.67 829.83,308.68 821.53,303.21" fill="#00008f"/>
<polygon points="800.96,311.19 809.26,316.66 819.54,312.67 811.24,307.2" fill="#00008f"/>
</g>
<polyline points="639.2,226 805.3,335.6 1011,255.6" fill="none" stroke="#000" stroke-width="0.95"/>
<g stroke="#000" stroke-width="0.6" stroke-linejoin="round">
<polygon points="639.2,226 647.5,231.48 647.5,228.18 639.2,222.7" fill="#00008f"/>
<polygon points="647.5,231.48 657.79,227.57 657.79,224.27 647.5,228.18" fill="#00008f"/>
<polygon points="639.2,222.7 647.5,228.18 657.79,224.27 649.49,218.79" fill="#00008f"/>
<polygon points="647.5,231.48 655.81,236.96 655.81,235.46 647.5,229.98" fill="#00008f"/>
<polygon points="655.81,236.96 666.1,233.04 666.1,231.54 655.81,235.46" fill="#00008f"/>
<polygon points="647.5,229.98 655.81,235.46 666.1,231.54 657.79,226.07" fill="#00008f"/>
<polygon points="696.95,221.28 705.26,226.75 705.26,224.75 696.95,219.28" fill="#00008f"/>
<polygon points="705.26,226.75 715.54,222.82 715.54,220.82 705.26,224.75" fill="#00008f"/>
<polygon points="696.95,219.28 705.26,224.75 715.54,220.82 707.24,215.37" fill="#00008f"/>
<polygon points="655.81,236.96 664.12,242.44 664.12,238.44 655.81,232.96" fill="#00008f"/>
<polygon points="664.12,242.44 674.4,238.52 674.4,234.52 664.12,238.44" fill="#00008f"/>
<polygon points="655.81,232.96 664.12,238.44 674.4,234.52 666.1,229.04" fill="#00008f"/>
<polygon points="664.12,242.44 672.42,247.92 672.42,246.42 664.12,240.94" fill="#00008f"/>
<polygon points="672.42,247.92 682.71,243.99 682.71,242.49 672.42,246.42" fill="#00008f"/>
<polygon points="664.12,240.94 672.42,246.42 682.71,242.49 674.4,237.02" fill="#00008f"/>
<polygon points="672.42,247.92 680.73,253.4 680.73,250.9 672.42,245.42" fill="#00008f"/>
<polygon points="680.73,253.4 691.01,249.47 691.01,246.97 680.73,250.9" fill="#00008f"/>
<polygon points="672.42,245.42 680.73,250.9 691.01,246.97 682.71,241.49" fill="#00008f"/>
<polygon points="680.73,253.4 689.03,258.88 689.03,257.38 680.73,251.9" fill="#00008f"/>
<polygon points="689.03,258.88 699.31,254.94 699.31,253.44 689.03,257.38" fill="#00008f"/>
<polygon points="680.73,251.9 689.03,257.38 699.31,253.44 691.01,247.97" fill="#00008f"/>
<polygon points="699.31,254.94 707.62,260.42 707.62,259.62 699.31,254.14" fill="#00008f"/>
<polygon points="707.62,260.42 717.91,256.48 717.91,255.68 707.62,259.62" fill="#00008f"/>
<polygon points="699.31,254.14 707.62,259.62 717.91,255.68 709.6,250.21" fill="#00008f"/>
<polygon points="697.34,264.36 705.64,269.84 705.64,269.04 697.34,263.56" fill="#00008f"/>
<polygon points="705.64,269.84 715.92,265.89 715.92,265.09 705.64,269.04" fill="#00008f"/>
<polygon points="697.34,263.56 705.64,269.04 715.92,265.09 707.62,259.62" fill="#00008f"/>
<polygon points="730.56,286.28 738.86,291.76 738.86,291.26 730.56,285.78" fill="#00008f"/>
<polygon points="738.86,291.76 749.14,287.8 749.14,287.3 738.86,291.26" fill="#00008f"/>
<polygon points="730.56,285.78 738.86,291.26 749.14,287.3 740.84,281.82" fill="#00008f"/>
<polygon points="738.86,291.76 747.16,297.24 747.16,295.24 738.86,289.76" fill="#00008f"/>
<polygon points="747.16,297.24 757.45,293.27 757.45,291.27 747.16,295.24" fill="#00008f"/>
<polygon points="738.86,289.76 747.16,295.24 757.45,291.27 749.14,285.8" fill="#00008f"/>
<polygon points="763.77,308.2 772.08,313.68 772.08,312.18 763.77,306.7" fill="#00008f"/>
<polygon points="772.08,313.68 782.37,309.7 782.37,308.2 772.08,312.18" fill="#00008f"/>
<polygon points="763.77,306.7 772.08,312.18 782.37,308.2 774.06,302.72" fill="#00008f"/>
<polygon points="772.08,313.68 780.38,319.16 780.38,317.66 772.08,312.18" fill="#00008f"/>
<polygon points="780.38,319.16 790.67,315.17 790.67,313.67 780.38,317.66" fill="#00008f"/>
<polygon points="772.08,312.18 780.38,317.66 790.67,313.67 782.37,308.2" fill="#00008f"/>
<polygon points="831.81,299.23 840.11,304.69 840.11,302.69 831.81,297.23" fill="#00009c"/>
<polygon points="840.11,304.69 850.4,300.69 850.4,298.69 840.11,302.69" fill="#00009c"/>
<polygon points="831.81,297.23 840.11,302.69 850.4,298.69 842.09,293.24" fill="#00009c"/>
<polygon points="821.53,303.21 829.83,308.68 829.83,306.68 821.53,301.21" fill="#00009c"/>
<polygon points="829.83,308.68 840.11,304.69 840.11,302.69 829.83,306.68" fill="#00009c"/>
<polygon points="821.53,301.21 829.83,306.68 840.11,302.69 831.81,297.23" fill="#00009c"/>
<polygon points="790.67,315.17 798.98,320.65 798.98,305.65 790.67,300.17" fill="#0000cc"/>
<polygon points="798.98,320.65 809.26,316.66 809.26,301.66 798.98,305.65" fill="#0000cc"/>
<polygon points="790.67,300.17 798.98,305.65 809.26,301.66 800.96,296.19" fill="#0000cc"/>
<polygon points="780.38,319.16 788.69,324.64 788.69,179.14 780.38,173.66" fill="#800000"/>
<polygon points="788.69,324.64 798.98,320.65 798.98,175.15 788.69,179.14" fill="#800000"/>
<polygon points="780.38,173.66 788.69,179.14 798.98,175.15 790.67,169.67" fill="#800000"/>
<polygon points="829.83,308.68 838.13,314.14 838.13,311.64 829.83,306.18" fill="#00009c"/>
<polygon points="838.13,314.14 848.42,310.14 848.42,307.64 838.13,311.64" fill="#00009c"/>
<polygon points="829.83,306.18 838.13,311.64 848.42,307.64 840.11,302.19" fill="#00009c"/>
<polygon points="819.54,312.67 827.85,318.13 827.85,315.63 819.54,310.17" fill="#00009c"/>
<polygon points="827.85,318.13 838.13,314.14 838.13,311.64 827.85,315.63" fill="#00009c"/>
<polygon points="819.54,310.17 827.85,315.63 838.13,311.64 829.83,306.18" fill="#00009c"/>
<polygon points="798.98,320.65 807.28,326.12 807.28,318.72 798.98,313.25" fill="#0000d4"/>
<polygon points="807.28,326.12 817.56,322.13 817.56,314.73 807.28,318.72" fill="#0000d4"/>
<polygon points="798.98,313.25 807.28,318.72 817.56,314.73 809.26,309.26" fill="#0000d4"/>
<polygon points="788.69,324.64 797,330.12 797,248.02 788.69,242.54" fill="#bfff40"/>
<polygon points="797,330.12 807.28,326.12 807.28,244.02 797,248.02" fill="#bfff40"/>
<polygon points="788.69,242.54 797,248.02 807.28,244.02 798.98,238.55" fill="#bfff40"/>
<polygon points="797,330.12 805.3,335.6 805.3,330.6 797,325.12" fill="#0000b0"/>
<polygon points="805.3,335.6 815.58,331.6 815.58,326.6 805.3,330.6" fill="#0000b0"/>
<polygon points="797,325.12 805.3,330.6 815.58,326.6 807.28,321.12" fill="#0000b0"/>
</g>
<line x1="836.44" y1="323.49" x2="841.03" y2="326.52" stroke="#222" stroke-width="0.8"/>
<text x="843.84" y="340.39" font-family="Liberation Sans, Arial, sans-serif" font-size="12.5" fill="#111" stroke="#111" stroke-width="0.2">0.2</text>
<line x1="867.58" y1="311.38" x2="872.17" y2="314.41" stroke="#222" stroke-width="0.8"/>
<text x="874.98" y="328.28" font-family="Liberation Sans, Arial, sans-serif" font-size="12.5" fill="#111" stroke="#111" stroke-width="0.2">0.4</text>
<line x1="898.72" y1="299.27" x2="903.31" y2="302.3" stroke="#222" stroke-width="0.8"/>
<text x="906.12" y="316.17" font-family="Liberation Sans, Arial, sans-serif" font-size="12.5" fill="#111" stroke="#111" stroke-width="0.2">0.6</text>
<line x1="929.86" y1="287.16" x2="934.45" y2="290.19" stroke="#222" stroke-width="0.8"/>
<text x="937.26" y="304.06" font-family="Liberation Sans, Arial, sans-serif" font-size="12.5" fill="#111" stroke="#111" stroke-width="0.2">0.8</text>
<line x1="961" y1="275.05" x2="965.59" y2="278.07" stroke="#222" stroke-width="0.8"/>
<text x="968.4" y="291.95" font-family="Liberation Sans, Arial, sans-serif" font-size="12.5" fill="#111" stroke="#111" stroke-width="0.2">1</text>
<line x1="992.14" y1="262.93" x2="996.73" y2="265.96" stroke="#222" stroke-width="0.8"/>
<text x="999.54" y="279.83" font-family="Liberation Sans, Arial, sans-serif" font-size="12.5" fill="#111" stroke="#111" stroke-width="0.2">1.2</text>
<line x1="654.7" y1="236.23" x2="649.57" y2="238.22" stroke="#222" stroke-width="0.8"/>
<text x="645.4" y="252.43" text-anchor="end" font-family="Liberation Sans, Arial, sans-serif" font-size="12.5" fill="#111" stroke="#111" stroke-width="0.2">-2</text>
<line x1="688.55" y1="258.56" x2="683.42" y2="260.56" stroke="#222" stroke-width="0.8"/>
<text x="679.25" y="274.76" text-anchor="end" font-family="Liberation Sans, Arial, sans-serif" font-size="12.5" fill="#111" stroke="#111" stroke-width="0.2">-1.5</text>
<line x1="722.4" y1="280.9" x2="717.27" y2="282.89" stroke="#222" stroke-width="0.8"/>
<text x="713.1" y="297.1" text-anchor="end" font-family="Liberation Sans, Arial, sans-serif" font-size="12.5" fill="#111" stroke="#111" stroke-width="0.2">-1</text>
<line x1="756.25" y1="303.23" x2="751.12" y2="305.23" stroke="#222" stroke-width="0.8"/>
<text x="746.95" y="319.43" text-anchor="end" font-family="Liberation Sans, Arial, sans-serif" font-size="12.5" fill="#111" stroke="#111" stroke-width="0.2">-0.5</text>
<line x1="790.1" y1="325.57" x2="784.97" y2="327.56" stroke="#222" stroke-width="0.8"/>
<text x="780.8" y="341.77" text-anchor="end" font-family="Liberation Sans, Arial, sans-serif" font-size="12.5" fill="#111" stroke="#111" stroke-width="0.2">0</text>
<text x="644.6" y="349.8" font-family="Liberation Sans, Arial, sans-serif" font-size="12.5" fill="#111" stroke="#111" stroke-width="0.2">Mean (MPa)</text>
<text x="905" y="356.2" font-family="Liberation Sans, Arial, sans-serif" font-size="12.5" fill="#111" stroke="#111" stroke-width="0.2">Amplitude (MPa)</text>
<text transform="translate(600.2 156.3) rotate(-90)" text-anchor="middle" font-family="Liberation Sans, Arial, sans-serif" font-size="12.6" fill="#111" stroke="#111" stroke-width="0.2">Number of cycles</text>
<rect x="792.1" y="123.7" width="76.4" height="50.6" fill="#ffffee" stroke="#d4d4c4" stroke-width="0.6"/>
<text x="797.7" y="138.7" font-family="Liberation Sans, Arial, sans-serif" font-size="10.65" fill="#111" stroke="#111" stroke-width="0.2">X: 3.828e-006</text>
<text x="797.7" y="152.45" font-family="Liberation Sans, Arial, sans-serif" font-size="10.65" fill="#111" stroke="#111" stroke-width="0.2">Y: -0.02062</text>
<text x="797.7" y="166.2" font-family="Liberation Sans, Arial, sans-serif" font-size="10.65" fill="#111" stroke="#111" stroke-width="0.2">Z: 126.5</text>
<rect x="782.3" y="172.6" width="12.4" height="12.4" fill="#ffffd4"/>
<rect x="785.2" y="175.5" width="6.6" height="6.6" fill="#000"/>
<text x="518" y="392.9" text-anchor="middle" font-family="Liberation Serif, serif" font-size="27.5" fill="#111">(<tspan font-weight="bold">b</tspan>)</text>
</svg></body></html>
